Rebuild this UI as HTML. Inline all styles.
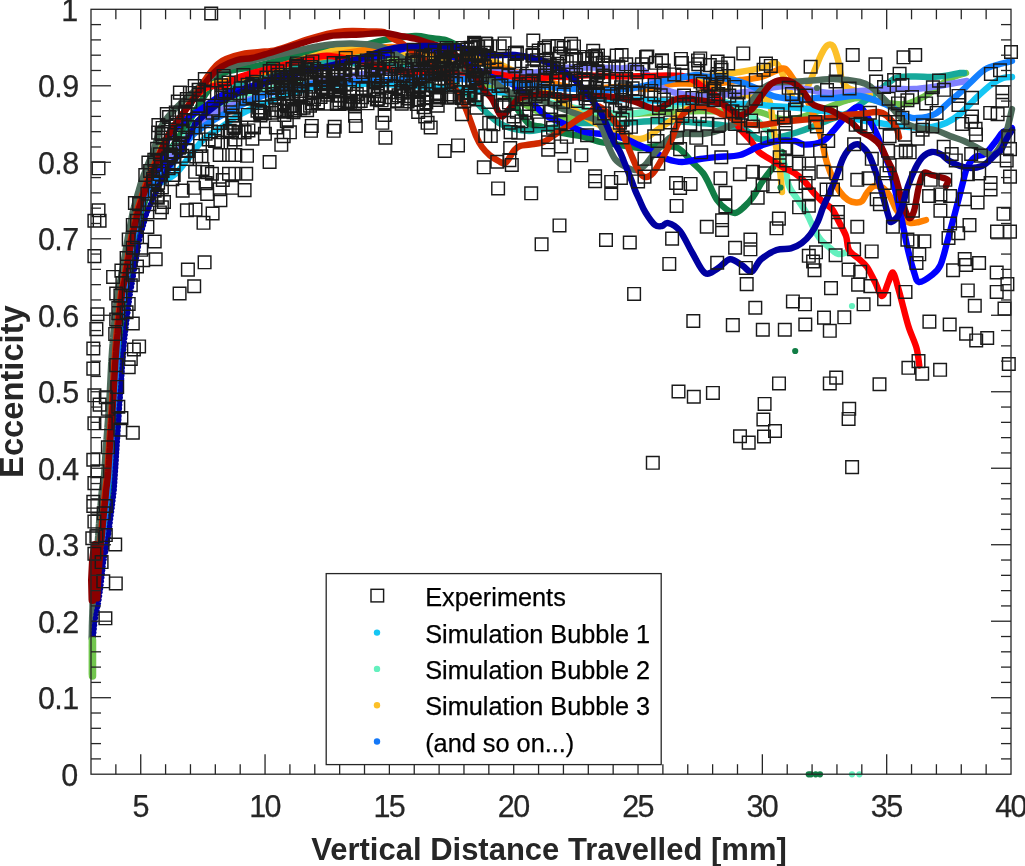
<!DOCTYPE html>
<html><head><meta charset="utf-8"><style>
html,body{margin:0;padding:0;background:#fff;}
svg{display:block;}
.t{font-family:"Liberation Sans",Arial,sans-serif;font-size:30.5px;fill:#262626;stroke:#262626;stroke-width:0.25px;}
.lab{font-family:"Liberation Sans",Arial,sans-serif;font-size:31px;font-weight:bold;fill:#262626;}
.lg{font-family:"Liberation Sans",Arial,sans-serif;font-size:25.3px;fill:#000;stroke:#000;stroke-width:0.25px;}
</style></head><body>
<svg width="1025" height="866" viewBox="0 0 1025 866">
<rect width="1025" height="866" fill="#fff"/>
<path d="M92.0,674.0 C92.0,673.0 92.0,670.0 92.0,668.0 C92.0,666.0 92.0,664.0 92.0,662.0 C92.0,660.0 92.0,658.0 92.0,656.0 C92.0,654.0 92.0,652.0 92.0,650.0 C92.0,648.0 91.9,646.0 92.0,644.0 C92.0,642.0 92.0,640.0 92.0,638.0 C92.1,636.0 92.2,634.0 92.3,632.0 C92.3,630.0 92.4,628.0 92.5,626.0 C92.6,624.0 92.6,622.0 92.7,620.0 C92.8,618.0 93.0,616.0 93.1,614.0 C93.3,612.0 93.4,610.0 93.6,608.0 C93.7,606.0 93.8,604.0 94.0,602.0 C94.1,600.0 94.3,598.0 94.5,596.0 C94.7,594.0 95.0,592.0 95.2,590.0 C95.4,588.0 95.6,586.0 95.8,584.0 C96.0,582.0 96.2,580.0 96.5,578.0 C96.7,576.0 96.9,574.0 97.1,572.0 C97.3,570.0 97.4,568.0 97.6,566.0 C97.8,564.0 97.9,562.0 98.1,560.0 C98.3,558.0 98.5,556.0 98.7,554.0 C98.9,552.0 99.1,550.0 99.3,548.0 C99.5,546.0 99.7,544.0 99.9,542.0 C100.1,540.0 100.3,538.0 100.4,536.0 C100.6,534.0 100.8,532.0 100.9,530.0 C101.1,528.0 101.2,526.0 101.4,524.0 C101.6,522.0 101.7,520.0 101.9,518.0 C102.1,516.0 102.3,514.0 102.5,512.0 C102.7,510.0 102.9,508.0 103.1,506.0 C103.3,504.0 103.5,502.0 103.7,500.0 C103.9,498.0 104.0,496.0 104.2,494.0 C104.4,492.0 104.6,490.0 104.9,488.0 C105.1,486.0 105.4,484.0 105.7,482.0 C106.0,480.0 106.3,478.0 106.4,476.0 C106.6,474.0 106.7,472.0 106.8,470.0 C107.0,468.0 107.1,466.0 107.2,464.0 C107.4,462.0 107.5,460.0 107.6,458.0 C107.8,456.0 107.9,454.0 108.0,452.0 C108.2,450.0 108.3,448.0 108.4,446.0 C108.6,444.0 108.7,442.0 108.9,440.0 C109.0,438.0 109.2,436.0 109.3,434.0 C109.5,432.0 109.6,430.0 109.8,428.0 C109.9,426.0 110.0,424.0 110.2,422.0 C110.3,420.0 110.5,418.0 110.6,416.0 C110.8,414.0 110.9,412.0 111.1,410.0 C111.2,408.0 111.4,406.0 111.5,404.0 C111.6,402.0 111.7,400.0 111.8,398.0 C111.9,396.0 112.1,394.0 112.2,392.0 C112.3,390.0 112.4,388.0 112.5,386.0 C112.6,384.0 112.7,382.0 112.8,380.0 C112.9,378.0 113.0,376.0 113.2,374.0 C113.3,372.0 113.4,370.0 113.5,368.0 C113.6,366.0 113.7,364.0 113.8,362.0 C113.9,360.0 114.1,358.0 114.2,356.0 C114.4,354.0 114.5,352.0 114.7,350.0 C114.8,348.0 115.0,346.0 115.1,344.0 C115.3,342.0 115.5,340.0 115.6,338.0 C115.8,336.0 116.0,334.0 116.2,332.0 C116.3,330.0 116.5,328.0 116.7,326.0 C116.9,324.0 117.0,322.0 117.2,320.0 C117.4,318.0 117.7,316.0 117.9,314.0 C118.2,312.0 118.4,310.0 118.6,308.0 C118.9,306.0 119.1,304.0 119.3,302.0 C119.6,300.0 119.8,298.0 120.0,296.0 C120.3,294.0 120.4,292.0 120.8,290.0 C121.2,288.0 121.8,286.0 122.2,284.0 C122.7,282.0 123.2,280.0 123.6,278.0 C124.0,276.0 124.3,274.0 124.6,272.0 C124.9,270.0 125.3,268.0 125.6,266.0 C126.0,264.0 126.3,262.0 126.6,260.0 C127.0,258.0 127.3,256.0 127.7,254.0 C128.0,252.0 128.3,250.0 128.7,248.0 C129.0,246.0 129.4,244.0 129.7,242.0 C130.1,240.0 130.4,238.0 130.8,236.0 C131.2,234.0 131.7,232.0 132.1,230.0 C132.5,228.0 133.0,226.0 133.4,224.0 C133.8,222.0 134.3,220.0 134.7,218.0 C135.1,216.0 135.5,214.0 136.0,212.0 C136.5,210.0 137.1,208.0 137.7,206.0 C138.3,204.0 139.0,202.0 139.6,200.0 C140.3,198.0 140.9,196.0 141.6,194.0 C142.2,192.0 142.9,190.0 143.5,188.0 C144.2,186.0 144.8,184.0 145.5,182.0 C146.2,180.0 147.1,178.0 147.9,176.0 C148.7,174.0 149.6,172.0 150.5,170.0 C151.3,168.0 152.1,166.0 153.1,164.0 C154.1,162.0 155.2,160.0 156.3,158.0 C157.4,156.0 158.4,155.0 159.8,152.0 C161.3,149.0 158.3,147.0 165.0,140.0 C171.7,133.0 187.5,118.0 200.0,110.0 C212.5,102.0 226.7,97.7 240.0,92.0 C253.3,86.3 266.5,81.3 280.0,76.0 C293.5,70.7 309.0,63.3 321.0,60.0 C333.0,56.7 338.8,56.0 352.0,56.0 C365.2,56.0 383.7,57.3 400.0,60.0 C416.3,62.7 433.3,66.7 450.0,72.0 C466.7,77.3 484.5,85.0 500.0,92.0 C515.5,99.0 533.3,109.7 543.0,114.0 C552.7,118.3 548.5,117.7 558.0,118.0 C567.5,118.3 584.7,116.8 600.0,116.0 C615.3,115.2 633.3,113.8 650.0,113.0 C666.7,112.2 685.0,111.2 700.0,111.0 C715.0,110.8 730.2,111.8 740.0,112.0 C749.8,112.2 752.8,111.0 759.0,112.0 C765.2,113.0 771.7,116.8 777.0,118.0 C782.3,119.2 786.3,119.8 791.0,119.5 C795.7,119.2 800.2,117.5 805.0,116.0 C809.8,114.5 815.2,112.3 820.0,110.5 C824.8,108.7 829.3,106.8 834.0,105.0 C838.7,103.2 843.7,101.2 848.0,100.0 C852.3,98.8 855.0,97.8 860.0,98.0 C865.0,98.2 872.2,100.0 878.0,101.0 C883.8,102.0 890.3,103.5 895.0,104.0 C899.7,104.5 902.2,104.8 906.0,104.0 C909.8,103.2 914.0,101.3 918.0,99.5 C922.0,97.7 924.8,96.4 930.0,93.0 C935.2,89.6 943.0,82.3 949.0,79.0 C955.0,75.7 963.2,74.0 966.0,73.0" fill="none" stroke="#72C64E" stroke-width="6.4" stroke-linecap="round" stroke-linejoin="round"/>
<path d="M95.0,590.0 C95.1,589.0 95.5,586.0 95.7,584.0 C95.9,582.0 96.1,580.0 96.3,578.0 C96.5,576.0 96.7,574.0 96.9,572.0 C97.1,570.0 97.3,568.0 97.4,566.0 C97.6,564.0 97.7,562.0 97.9,560.0 C98.1,558.0 98.3,556.0 98.5,554.0 C98.7,552.0 98.9,550.0 99.1,548.0 C99.3,546.0 99.5,544.0 99.7,542.0 C99.9,540.0 100.0,538.0 100.2,536.0 C100.4,534.0 100.5,532.0 100.7,530.0 C100.8,528.0 101.0,526.0 101.2,524.0 C101.3,522.0 101.5,520.0 101.7,518.0 C101.9,516.0 102.1,514.0 102.2,512.0 C102.4,510.0 102.6,508.0 102.8,506.0 C103.0,504.0 103.2,502.0 103.4,500.0 C103.6,498.0 103.8,496.0 104.0,494.0 C104.2,492.0 104.4,490.0 104.6,488.0 C104.8,486.0 105.2,484.0 105.4,482.0 C105.7,480.0 106.0,478.0 106.2,476.0 C106.4,474.0 106.5,472.0 106.6,470.0 C106.7,468.0 106.9,466.0 107.0,464.0 C107.1,462.0 107.3,460.0 107.4,458.0 C107.5,456.0 107.7,454.0 107.8,452.0 C107.9,450.0 108.1,448.0 108.2,446.0 C108.3,444.0 108.5,442.0 108.6,440.0 C108.8,438.0 108.9,436.0 109.1,434.0 C109.2,432.0 109.4,430.0 109.5,428.0 C109.7,426.0 109.8,424.0 110.0,422.0 C110.1,420.0 110.2,418.0 110.4,416.0 C110.5,414.0 110.7,412.0 110.8,410.0 C111.0,408.0 111.1,406.0 111.3,404.0 C111.4,402.0 111.5,400.0 111.6,398.0 C111.7,396.0 111.8,394.0 111.9,392.0 C112.0,390.0 112.1,388.0 112.2,386.0 C112.4,384.0 112.5,382.0 112.6,380.0 C112.7,378.0 112.8,376.0 112.9,374.0 C113.0,372.0 113.1,370.0 113.2,368.0 C113.3,366.0 113.4,364.0 113.6,362.0 C113.7,360.0 113.8,358.0 114.0,356.0 C114.1,354.0 114.3,352.0 114.4,350.0 C114.6,348.0 114.7,346.0 114.9,344.0 C115.0,342.0 115.2,340.0 115.4,338.0 C115.6,336.0 115.7,334.0 115.9,332.0 C116.1,330.0 116.2,328.0 116.4,326.0 C116.6,324.0 116.8,322.0 117.0,320.0 C117.2,318.0 117.4,316.0 117.7,314.0 C117.9,312.0 118.1,310.0 118.4,308.0 C118.6,306.0 118.8,304.0 119.1,302.0 C119.3,300.0 119.5,298.0 119.8,296.0 C120.0,294.0 120.2,292.0 120.5,290.0 C120.9,288.0 121.5,286.0 121.9,284.0 C122.4,282.0 122.9,280.0 123.3,278.0 C123.7,276.0 124.0,274.0 124.3,272.0 C124.7,270.0 125.0,268.0 125.4,266.0 C125.7,264.0 126.0,262.0 126.4,260.0 C126.7,258.0 127.1,256.0 127.4,254.0 C127.7,252.0 128.1,250.0 128.4,248.0 C128.8,246.0 129.1,244.0 129.4,242.0 C129.8,240.0 130.1,238.0 130.5,236.0 C130.9,234.0 131.4,232.0 131.8,230.0 C132.2,228.0 132.7,226.0 133.1,224.0 C133.5,222.0 134.0,220.0 134.4,218.0 C134.8,216.0 135.2,214.0 135.7,212.0 C136.2,210.0 136.7,208.0 137.3,206.0 C137.9,204.0 138.6,202.0 139.3,200.0 C139.9,198.0 140.9,195.0 141.2,194.0" fill="none" stroke="#8B0000" stroke-width="7" stroke-linecap="round" stroke-linejoin="round"/>
<path d="M96.3,600.0 C96.5,599.0 96.8,596.0 97.0,594.0 C97.3,592.0 97.5,590.0 97.7,588.0 C98.0,586.0 98.2,584.0 98.4,582.0 C98.6,580.0 98.9,578.0 99.1,576.0 C99.3,574.0 99.5,572.0 99.7,570.0 C99.9,568.0 100.1,566.0 100.3,564.0 C100.5,562.0 100.8,560.0 101.0,558.0 C101.3,556.0 101.6,554.0 101.9,552.0 C102.2,550.0 102.5,548.0 102.8,546.0 C103.0,544.0 103.4,542.0 103.6,540.0 C103.9,538.0 104.1,536.0 104.3,534.0 C104.5,532.0 104.7,530.0 104.9,528.0 C105.1,526.0 105.3,524.0 105.5,522.0 C105.7,520.0 105.9,518.0 106.1,516.0 C106.4,514.0 106.6,512.0 106.8,510.0 C107.0,508.0 107.3,506.0 107.5,504.0 C107.7,502.0 107.9,500.0 108.1,498.0 C108.4,496.0 108.6,494.0 108.8,492.0 C109.0,490.0 109.2,488.0 109.4,486.0 C109.6,484.0 109.8,482.0 110.0,480.0 C110.2,478.0 110.4,476.0 110.5,474.0 C110.7,472.0 110.8,470.0 110.9,468.0 C111.0,466.0 111.2,464.0 111.3,462.0 C111.4,460.0 111.6,458.0 111.7,456.0 C111.8,454.0 111.9,452.0 112.1,450.0 C112.2,448.0 112.3,446.0 112.5,444.0 C112.6,442.0 112.8,440.0 112.9,438.0 C113.0,436.0 113.2,434.0 113.3,432.0 C113.4,430.0 113.6,428.0 113.7,426.0 C113.9,424.0 114.0,422.0 114.1,420.0 C114.3,418.0 114.4,416.0 114.5,414.0 C114.7,412.0 114.8,410.0 115.0,408.0 C115.1,406.0 115.2,404.0 115.4,402.0 C115.5,400.0 115.6,398.0 115.7,396.0 C115.9,394.0 116.0,392.0 116.1,390.0 C116.2,388.0 116.4,386.0 116.5,384.0 C116.6,382.0 116.7,380.0 116.9,378.0 C117.0,376.0 117.1,374.0 117.2,372.0 C117.4,370.0 117.5,368.0 117.6,366.0 C117.8,364.0 117.9,362.0 118.0,360.0 C118.2,358.0 118.3,356.0 118.5,354.0 C118.6,352.0 118.7,350.0 118.9,348.0 C119.0,346.0 119.2,344.0 119.4,342.0 C119.6,340.0 119.8,338.0 120.0,336.0 C120.2,334.0 120.4,332.0 120.6,330.0 C120.8,328.0 121.0,326.0 121.2,324.0 C121.4,322.0 121.6,320.0 121.9,318.0 C122.1,316.0 122.4,314.0 122.6,312.0 C122.8,310.0 123.1,308.0 123.3,306.0 C123.6,304.0 123.8,302.0 124.1,300.0 C124.3,298.0 124.5,296.0 124.8,294.0 C125.1,292.0 125.4,290.0 125.8,288.0 C126.2,286.0 126.7,284.0 127.1,282.0 C127.5,280.0 127.8,278.0 128.2,276.0 C128.6,274.0 128.9,272.0 129.2,270.0 C129.6,268.0 129.9,266.0 130.3,264.0 C130.6,262.0 130.9,260.0 131.3,258.0 C131.6,256.0 132.0,254.0 132.3,252.0 C132.6,250.0 133.0,248.0 133.3,246.0 C133.7,244.0 134.0,242.0 134.4,240.0 C134.7,238.0 135.2,236.0 135.6,234.0 C136.1,232.0 136.6,230.0 137.1,228.0 C137.6,226.0 138.1,224.0 138.6,222.0 C139.1,220.0 139.5,218.0 140.0,216.0 C140.6,214.0 141.1,212.0 141.7,210.0 C142.4,208.0 143.2,206.0 143.9,204.0 C144.7,202.0 145.5,200.0 146.2,198.0 C147.0,196.0 147.7,194.0 148.5,192.0 C149.3,190.0 150.1,188.0 150.9,186.0 C151.7,184.0 152.5,182.0 153.3,180.0 C154.2,178.0 155.0,176.0 156.0,174.0 C157.0,172.0 158.1,170.0 159.1,168.0 C160.1,166.0 157.1,170.0 162.2,162.0 C167.4,154.0 182.9,131.2 190.0,120.0 C197.1,108.8 200.3,102.0 205.0,95.0 C209.7,88.0 214.0,82.0 218.0,78.0 C222.0,74.0 223.3,72.8 229.0,71.0 C234.7,69.2 244.2,68.7 252.0,67.0 C259.8,65.3 268.2,62.8 276.0,61.0 C283.8,59.2 291.2,57.7 299.0,56.0 C306.8,54.3 315.2,52.5 323.0,51.0 C330.8,49.5 339.0,48.3 346.0,47.3 C353.0,46.3 358.7,46.2 365.0,45.0 C371.3,43.8 375.7,41.5 384.0,40.0 C392.3,38.5 407.3,36.3 415.0,36.0 C422.7,35.7 424.8,37.3 430.0,38.0 C435.2,38.7 441.3,38.7 446.0,40.0 C450.7,41.3 453.2,43.3 458.0,46.0 C462.8,48.7 469.3,51.7 475.0,56.0 C480.7,60.3 486.2,65.0 492.0,72.0 C497.8,79.0 504.0,89.5 510.0,98.0 C516.0,106.5 522.5,118.2 528.0,123.0 C533.5,127.8 537.3,125.3 543.0,127.0 C548.7,128.7 555.8,131.5 562.0,133.0 C568.2,134.5 573.7,134.5 580.0,136.0 C586.3,137.5 593.3,140.5 600.0,142.0 C606.7,143.5 613.3,144.0 620.0,145.0 C626.7,146.0 633.3,147.8 640.0,148.0 C646.7,148.2 653.7,146.0 660.0,146.0 C666.3,146.0 672.7,145.3 678.0,148.0 C683.3,150.7 687.8,157.8 692.0,162.0 C696.2,166.2 700.0,169.0 703.0,173.0 C706.0,177.0 707.7,181.5 710.0,186.0 C712.3,190.5 714.3,196.2 717.0,200.0 C719.7,203.8 723.0,206.8 726.0,209.0 C729.0,211.2 732.0,213.3 735.0,213.0 C738.0,212.7 741.0,209.7 744.0,207.0 C747.0,204.3 750.0,201.2 753.0,197.0 C756.0,192.8 759.0,186.5 762.0,182.0 C765.0,177.5 768.3,173.5 771.0,170.0 C773.7,166.5 776.2,164.0 778.0,161.0 C779.8,158.0 781.3,153.5 782.0,152.0" fill="none" stroke="#117D45" stroke-width="6.4" stroke-linecap="round" stroke-linejoin="round"/>
<path d="M96.3,590.0 C96.4,589.0 96.7,586.0 96.9,584.0 C97.2,582.0 97.4,580.0 97.6,578.0 C97.8,576.0 98.0,574.0 98.2,572.0 C98.4,570.0 98.6,568.0 98.8,566.0 C98.9,564.0 99.1,562.0 99.3,560.0 C99.5,558.0 99.8,556.0 100.1,554.0 C100.3,552.0 100.5,550.0 100.8,548.0 C101.0,546.0 101.3,544.0 101.5,542.0 C101.7,540.0 101.9,538.0 102.1,536.0 C102.3,534.0 102.5,532.0 102.7,530.0 C102.9,528.0 103.0,526.0 103.2,524.0 C103.4,522.0 103.6,520.0 103.8,518.0 C104.0,516.0 104.2,514.0 104.4,512.0 C104.6,510.0 104.8,508.0 105.0,506.0 C105.2,504.0 105.5,502.0 105.7,500.0 C105.9,498.0 106.1,496.0 106.3,494.0 C106.5,492.0 106.7,490.0 106.9,488.0 C107.1,486.0 107.4,484.0 107.6,482.0 C107.8,480.0 108.1,478.0 108.3,476.0 C108.5,474.0 108.6,472.0 108.7,470.0 C108.8,468.0 108.9,466.0 109.1,464.0 C109.2,462.0 109.3,460.0 109.5,458.0 C109.6,456.0 109.7,454.0 109.9,452.0 C110.0,450.0 110.1,448.0 110.3,446.0 C110.4,444.0 110.6,442.0 110.7,440.0 C110.8,438.0 111.0,436.0 111.1,434.0 C111.3,432.0 111.4,430.0 111.5,428.0 C111.7,426.0 111.8,424.0 112.0,422.0 C112.1,420.0 112.3,418.0 112.4,416.0 C112.5,414.0 112.7,412.0 112.8,410.0 C113.0,408.0 113.1,406.0 113.3,404.0 C113.4,402.0 113.5,400.0 113.6,398.0 C113.7,396.0 113.8,394.0 114.0,392.0 C114.1,390.0 114.2,388.0 114.3,386.0 C114.4,384.0 114.5,382.0 114.7,380.0 C114.8,378.0 114.9,376.0 115.0,374.0 C115.1,372.0 115.2,370.0 115.4,368.0 C115.5,366.0 115.6,364.0 115.7,362.0 C115.8,360.0 116.0,358.0 116.2,356.0 C116.3,354.0 116.4,352.0 116.6,350.0 C116.7,348.0 116.9,346.0 117.0,344.0 C117.2,342.0 117.4,340.0 117.6,338.0 C117.8,336.0 118.0,334.0 118.1,332.0 C118.3,330.0 118.5,328.0 118.7,326.0 C118.9,324.0 119.1,322.0 119.3,320.0 C119.5,318.0 119.8,316.0 120.0,314.0 C120.2,312.0 120.5,310.0 120.7,308.0 C121.0,306.0 121.2,304.0 121.4,302.0 C121.7,300.0 121.9,298.0 122.1,296.0 C122.4,294.0 122.6,292.0 123.0,290.0 C123.3,288.0 123.9,286.0 124.3,284.0 C124.7,282.0 125.2,280.0 125.6,278.0 C126.0,276.0 126.3,274.0 126.6,272.0 C126.9,270.0 127.3,268.0 127.6,266.0 C128.0,264.0 128.3,262.0 128.7,260.0 C129.0,258.0 129.3,256.0 129.7,254.0 C130.0,252.0 130.4,250.0 130.7,248.0 C131.0,246.0 131.4,244.0 131.7,242.0 C132.1,240.0 132.4,238.0 132.8,236.0 C133.3,234.0 133.8,232.0 134.2,230.0 C134.7,228.0 135.1,226.0 135.6,224.0 C136.0,222.0 136.5,220.0 137.0,218.0 C137.4,216.0 137.8,214.0 138.3,212.0 C138.9,210.0 139.6,208.0 140.3,206.0 C140.9,204.0 141.7,202.0 142.4,200.0 C143.1,198.0 143.8,196.0 144.5,194.0 C145.2,192.0 145.9,190.0 146.6,188.0 C147.3,186.0 148.0,184.0 148.8,182.0 C149.5,180.0 150.4,178.0 151.2,176.0 C152.1,174.0 153.1,172.0 154.0,170.0 C155.0,168.0 150.1,171.5 156.9,164.0 C163.7,156.5 185.3,135.0 195.0,125.0 C204.7,115.0 207.2,111.1 215.0,104.0 C222.8,96.9 233.2,87.4 241.5,82.4 C249.8,77.4 256.7,76.6 265.0,74.0 C273.3,71.4 283.2,69.0 291.5,67.0 C299.8,65.0 306.9,62.8 315.0,62.0 C323.1,61.2 332.5,61.7 340.0,62.0 C347.5,62.3 350.2,63.2 360.0,64.0 C369.8,64.8 389.8,66.3 399.0,67.0 C408.2,67.7 408.2,66.5 415.0,68.0 C421.8,69.5 432.5,72.7 440.0,76.0 C447.5,79.3 454.5,84.2 460.0,88.0 C465.5,91.8 468.7,95.0 473.0,99.0 C477.3,103.0 481.7,108.0 486.0,112.0 C490.3,116.0 494.3,120.2 499.0,123.0 C503.7,125.8 509.0,127.7 514.0,129.0 C519.0,130.3 524.2,131.0 529.0,131.0 C533.8,131.0 538.2,129.7 543.0,129.0 C547.8,128.3 553.0,127.9 558.0,127.0 C563.0,126.1 568.0,124.2 573.0,123.5 C578.0,122.8 580.2,123.1 588.0,123.0 C595.8,122.9 608.0,123.3 620.0,123.0 C632.0,122.7 646.7,121.0 660.0,121.0 C673.3,121.0 686.5,121.8 700.0,123.0 C713.5,124.2 731.2,125.3 741.0,128.0 C750.8,130.7 752.5,137.5 759.0,139.0 C765.5,140.5 773.5,138.2 780.0,137.0 C786.5,135.8 792.7,133.7 798.0,132.0 C803.3,130.3 806.7,129.1 812.0,127.0 C817.3,124.9 824.0,121.8 830.0,119.5 C836.0,117.2 842.7,115.8 848.0,113.0 C853.3,110.2 856.7,106.8 862.0,103.0 C867.3,99.2 874.3,94.2 880.0,90.0 C885.7,85.8 890.3,80.2 896.0,78.0 C901.7,75.8 908.0,76.7 914.0,76.5 C920.0,76.3 926.7,77.2 932.0,77.0 C937.3,76.8 941.3,76.3 946.0,75.6 C950.7,74.9 957.0,73.4 960.0,73.0 C963.0,72.6 963.3,73.0 964.0,73.0" fill="none" stroke="#17A99B" stroke-width="6.4" stroke-linecap="round" stroke-linejoin="round"/>
<path d="M97.9,575.0 C98.0,574.0 98.3,571.0 98.5,569.0 C98.7,567.0 98.8,565.0 99.0,563.0 C99.2,561.0 99.5,559.0 99.7,557.0 C99.9,555.0 100.2,553.0 100.4,551.0 C100.7,549.0 100.9,547.0 101.1,545.0 C101.4,543.0 101.7,541.0 101.9,539.0 C102.1,537.0 102.2,535.0 102.4,533.0 C102.6,531.0 102.8,529.0 103.0,527.0 C103.1,525.0 103.3,523.0 103.5,521.0 C103.7,519.0 103.9,517.0 104.1,515.0 C104.3,513.0 104.5,511.0 104.7,509.0 C104.9,507.0 105.1,505.0 105.3,503.0 C105.6,501.0 105.8,499.0 106.0,497.0 C106.2,495.0 106.3,493.0 106.6,491.0 C106.8,489.0 107.0,487.0 107.2,485.0 C107.5,483.0 107.8,481.0 108.0,479.0 C108.2,477.0 108.3,475.0 108.5,473.0 C108.6,471.0 108.7,469.0 108.9,467.0 C109.0,465.0 109.1,463.0 109.3,461.0 C109.4,459.0 109.5,457.0 109.7,455.0 C109.8,453.0 109.9,451.0 110.1,449.0 C110.2,447.0 110.3,445.0 110.5,443.0 C110.6,441.0 110.8,439.0 110.9,437.0 C111.1,435.0 111.2,433.0 111.3,431.0 C111.5,429.0 111.6,427.0 111.8,425.0 C111.9,423.0 112.0,421.0 112.2,419.0 C112.3,417.0 112.5,415.0 112.6,413.0 C112.8,411.0 112.9,409.0 113.0,407.0 C113.2,405.0 113.3,403.0 113.4,401.0 C113.6,399.0 113.7,397.0 113.8,395.0 C113.9,393.0 114.0,391.0 114.1,389.0 C114.2,387.0 114.4,385.0 114.5,383.0 C114.6,381.0 114.7,379.0 114.8,377.0 C115.0,375.0 115.1,373.0 115.2,371.0 C115.3,369.0 115.4,367.0 115.5,365.0 C115.7,363.0 115.8,361.0 115.9,359.0 C116.1,357.0 116.2,355.0 116.4,353.0 C116.5,351.0 116.7,349.0 116.8,347.0 C117.0,345.0 117.1,343.0 117.3,341.0 C117.5,339.0 117.7,337.0 117.9,335.0 C118.1,333.0 118.2,331.0 118.4,329.0 C118.6,327.0 118.8,325.0 119.0,323.0 C119.2,321.0 119.4,319.0 119.7,317.0 C119.9,315.0 120.1,313.0 120.4,311.0 C120.6,309.0 120.8,307.0 121.1,305.0 C121.3,303.0 121.5,301.0 121.8,299.0 C122.0,297.0 122.2,295.0 122.5,293.0 C122.9,291.0 123.2,289.0 123.6,287.0 C124.0,285.0 124.6,283.0 125.0,281.0 C125.4,279.0 125.7,277.0 126.1,275.0 C126.5,273.0 126.8,271.0 127.1,269.0 C127.5,267.0 127.8,265.0 128.1,263.0 C128.5,261.0 128.8,259.0 129.2,257.0 C129.5,255.0 129.8,253.0 130.2,251.0 C130.5,249.0 130.9,247.0 131.2,245.0 C131.6,243.0 131.9,241.0 132.2,239.0 C132.6,237.0 133.1,235.0 133.5,233.0 C134.0,231.0 134.4,229.0 134.9,227.0 C135.4,225.0 135.8,223.0 136.3,221.0 C136.7,219.0 137.2,217.0 137.7,215.0 C138.1,213.0 138.6,211.0 139.3,209.0 C139.9,207.0 140.6,205.0 141.3,203.0 C142.0,201.0 142.7,199.0 143.4,197.0 C144.1,195.0 144.8,193.0 145.5,191.0 C146.2,189.0 146.9,187.0 147.7,185.0 C148.4,183.0 149.2,181.0 150.0,179.0 C150.8,177.0 151.7,175.0 152.6,173.0 C153.5,171.0 154.5,169.0 155.5,167.0 C156.5,165.0 151.1,168.2 158.5,161.0 C165.9,153.8 189.8,132.8 200.0,124.0 C210.2,115.2 211.7,113.0 220.0,108.0 C228.3,103.0 236.7,98.0 250.0,94.0 C263.3,90.0 283.3,86.0 300.0,84.0 C316.7,82.0 333.3,82.0 350.0,82.0 C366.7,82.0 383.3,83.0 400.0,84.0 C416.7,85.0 434.2,86.7 450.0,88.0 C465.8,89.3 484.3,91.0 495.0,92.0 C505.7,93.0 503.2,91.8 514.0,94.0 C524.8,96.2 545.7,102.0 560.0,105.0 C574.3,108.0 588.3,110.5 600.0,112.0 C611.7,113.5 620.0,114.7 630.0,114.0 C640.0,113.3 651.3,109.7 660.0,108.0 C668.7,106.3 674.5,105.3 682.0,104.0 C689.5,102.7 697.7,100.3 705.0,100.0 C712.3,99.7 718.5,99.5 726.0,102.0 C733.5,104.5 743.5,110.7 750.0,115.0 C756.5,119.3 761.2,124.3 765.0,128.0 C768.8,131.7 770.5,132.5 773.0,137.0 C775.5,141.5 778.0,150.2 780.0,155.0 C782.0,159.8 783.5,160.8 785.0,166.0 C786.5,171.2 786.8,180.3 789.0,186.0 C791.2,191.7 795.0,195.3 798.0,200.0 C801.0,204.7 804.3,209.2 807.0,214.0 C809.7,218.8 811.7,224.7 814.0,229.0 C816.3,233.3 818.3,236.8 821.0,240.0 C823.7,243.2 827.2,245.7 830.0,248.0 C832.8,250.3 835.0,253.3 838.0,254.0 C841.0,254.7 846.3,252.3 848.0,252.0" fill="none" stroke="#64F0BE" stroke-width="6.4" stroke-linecap="round" stroke-linejoin="round"/>
<path d="M97.0,580.0 C97.1,579.0 97.4,576.0 97.6,574.0 C97.8,572.0 98.0,570.0 98.2,568.0 C98.4,566.0 98.5,564.0 98.7,562.0 C98.9,560.0 99.1,558.0 99.4,556.0 C99.6,554.0 99.8,552.0 100.1,550.0 C100.3,548.0 100.5,546.0 100.7,544.0 C101.0,542.0 101.2,540.0 101.4,538.0 C101.6,536.0 101.8,534.0 101.9,532.0 C102.1,530.0 102.3,528.0 102.4,526.0 C102.6,524.0 102.8,522.0 103.0,520.0 C103.2,518.0 103.4,516.0 103.6,514.0 C103.8,512.0 104.0,510.0 104.2,508.0 C104.4,506.0 104.6,504.0 104.8,502.0 C105.0,500.0 105.2,498.0 105.4,496.0 C105.6,494.0 105.7,492.0 106.0,490.0 C106.2,488.0 106.5,486.0 106.7,484.0 C107.0,482.0 107.3,480.0 107.5,478.0 C107.7,476.0 107.8,474.0 107.9,472.0 C108.1,470.0 108.2,468.0 108.3,466.0 C108.5,464.0 108.6,462.0 108.7,460.0 C108.9,458.0 109.0,456.0 109.1,454.0 C109.3,452.0 109.4,450.0 109.5,448.0 C109.7,446.0 109.8,444.0 110.0,442.0 C110.1,440.0 110.2,438.0 110.4,436.0 C110.5,434.0 110.7,432.0 110.8,430.0 C111.0,428.0 111.1,426.0 111.2,424.0 C111.4,422.0 111.5,420.0 111.7,418.0 C111.8,416.0 112.0,414.0 112.1,412.0 C112.2,410.0 112.4,408.0 112.5,406.0 C112.7,404.0 112.8,402.0 112.9,400.0 C113.0,398.0 113.1,396.0 113.2,394.0 C113.4,392.0 113.5,390.0 113.6,388.0 C113.7,386.0 113.8,384.0 113.9,382.0 C114.0,380.0 114.2,378.0 114.3,376.0 C114.4,374.0 114.5,372.0 114.6,370.0 C114.7,368.0 114.8,366.0 115.0,364.0 C115.1,362.0 115.2,360.0 115.4,358.0 C115.5,356.0 115.7,354.0 115.8,352.0 C116.0,350.0 116.1,348.0 116.2,346.0 C116.4,344.0 116.6,342.0 116.8,340.0 C116.9,338.0 117.1,336.0 117.3,334.0 C117.5,332.0 117.7,330.0 117.8,328.0 C118.0,326.0 118.2,324.0 118.4,322.0 C118.6,320.0 118.8,318.0 119.1,316.0 C119.3,314.0 119.6,312.0 119.8,310.0 C120.0,308.0 120.3,306.0 120.5,304.0 C120.7,302.0 121.0,300.0 121.2,298.0 C121.5,296.0 121.6,294.0 122.0,292.0 C122.3,290.0 122.7,288.0 123.2,286.0 C123.6,284.0 124.1,282.0 124.5,280.0 C124.9,278.0 125.2,276.0 125.6,274.0 C125.9,272.0 126.3,270.0 126.6,268.0 C127.0,266.0 127.3,264.0 127.6,262.0 C128.0,260.0 128.3,258.0 128.7,256.0 C129.0,254.0 129.3,252.0 129.7,250.0 C130.0,248.0 130.4,246.0 130.7,244.0 C131.1,242.0 131.4,240.0 131.8,238.0 C132.1,236.0 132.6,234.0 133.1,232.0 C133.5,230.0 134.0,228.0 134.4,226.0 C134.9,224.0 135.3,222.0 135.8,220.0 C136.2,218.0 136.6,216.0 137.1,214.0 C137.6,212.0 138.1,210.0 138.7,208.0 C139.3,206.0 140.1,204.0 140.8,202.0 C141.5,200.0 142.1,198.0 142.8,196.0 C143.5,194.0 144.2,192.0 144.9,190.0 C145.6,188.0 146.2,186.0 147.0,184.0 C147.7,182.0 148.5,180.0 149.3,178.0 C150.1,176.0 151.0,174.0 151.9,172.0 C152.8,170.0 152.0,172.0 154.7,166.0 C157.4,160.0 163.1,145.0 168.0,136.0 C172.9,127.0 179.3,118.7 184.0,112.0 C188.7,105.3 192.3,100.0 196.0,96.0 C199.7,92.0 203.0,90.0 206.0,88.0 C209.0,86.0 211.3,85.0 214.0,84.0 C216.7,83.0 217.7,83.0 222.0,82.0 C226.3,81.0 230.3,80.7 240.0,78.0 C249.7,75.3 263.8,70.7 280.0,66.0 C296.2,61.3 323.7,52.7 337.0,50.0 C350.3,47.3 349.5,49.2 360.0,50.0 C370.5,50.8 386.7,53.7 400.0,55.0 C413.3,56.3 426.0,57.3 440.0,58.0 C454.0,58.7 474.8,58.3 484.0,59.0 C493.2,59.7 487.3,58.5 495.0,62.0 C502.7,65.5 519.2,73.7 530.0,80.0 C540.8,86.3 550.8,93.8 560.0,100.0 C569.2,106.2 576.7,112.0 585.0,117.0 C593.3,122.0 600.8,126.3 610.0,130.0 C619.2,133.7 631.7,139.3 640.0,139.0 C648.3,138.7 652.5,132.8 660.0,128.0 C667.5,123.2 677.5,116.3 685.0,110.0 C692.5,103.7 697.5,93.0 705.0,90.0 C712.5,87.0 722.5,91.0 730.0,92.0 C737.5,93.0 745.0,94.7 750.0,96.0 C755.0,97.3 756.8,99.3 760.0,100.0 C763.2,100.7 766.8,96.2 769.0,100.0 C771.2,103.8 771.8,115.3 773.0,123.0 C774.2,130.7 774.8,138.0 776.0,146.0 C777.2,154.0 779.0,163.3 780.0,171.0 C781.0,178.7 781.7,188.5 782.0,192.0" fill="none" stroke="#FCC028" stroke-width="6.4" stroke-linecap="round" stroke-linejoin="round"/>
<path d="M700.0,78.0 C706.7,77.0 729.2,73.8 740.0,72.0 C750.8,70.2 759.5,68.5 765.0,67.0 C770.5,65.5 770.8,63.3 773.0,63.0 C775.2,62.7 776.0,62.2 778.0,65.0 C780.0,67.8 782.2,73.8 785.0,80.0 C787.8,86.2 792.2,99.0 795.0,102.0 C797.8,105.0 799.7,101.0 802.0,98.0 C804.3,95.0 806.8,88.8 809.0,84.0 C811.2,79.2 813.0,74.3 815.0,69.5 C817.0,64.7 819.0,59.0 821.0,55.0 C823.0,51.0 825.0,47.1 827.0,45.6 C829.0,44.1 831.2,43.6 833.0,46.0 C834.8,48.4 836.5,54.3 838.0,60.0 C839.5,65.7 840.3,75.3 842.0,80.0 C843.7,84.7 845.0,86.0 848.0,88.0 C851.0,90.0 856.3,90.8 860.0,92.0 C863.7,93.2 868.3,94.5 870.0,95.0" fill="none" stroke="#FCC028" stroke-width="6.4" stroke-linecap="round" stroke-linejoin="round"/>
<path d="M96.5,585.0 C96.6,584.0 96.9,581.0 97.1,579.0 C97.3,577.0 97.5,575.0 97.7,573.0 C97.9,571.0 98.1,569.0 98.3,567.0 C98.5,565.0 98.6,563.0 98.8,561.0 C99.0,559.0 99.3,557.0 99.5,555.0 C99.7,553.0 99.9,551.0 100.2,549.0 C100.4,547.0 100.6,545.0 100.9,543.0 C101.1,541.0 101.3,539.0 101.5,537.0 C101.7,535.0 101.8,533.0 102.0,531.0 C102.2,529.0 102.4,527.0 102.5,525.0 C102.7,523.0 102.9,521.0 103.1,519.0 C103.3,517.0 103.5,515.0 103.7,513.0 C103.9,511.0 104.1,509.0 104.3,507.0 C104.5,505.0 104.7,503.0 104.9,501.0 C105.1,499.0 105.3,497.0 105.5,495.0 C105.7,493.0 105.9,491.0 106.1,489.0 C106.3,487.0 106.6,485.0 106.8,483.0 C107.1,481.0 107.4,479.0 107.6,477.0 C107.8,475.0 107.9,473.0 108.0,471.0 C108.1,469.0 108.3,467.0 108.4,465.0 C108.5,463.0 108.7,461.0 108.8,459.0 C108.9,457.0 109.1,455.0 109.2,453.0 C109.3,451.0 109.5,449.0 109.6,447.0 C109.7,445.0 109.9,443.0 110.0,441.0 C110.2,439.0 110.3,437.0 110.5,435.0 C110.6,433.0 110.7,431.0 110.9,429.0 C111.0,427.0 111.2,425.0 111.3,423.0 C111.5,421.0 111.6,419.0 111.7,417.0 C111.9,415.0 112.0,413.0 112.2,411.0 C112.3,409.0 112.5,407.0 112.6,405.0 C112.7,403.0 112.8,401.0 113.0,399.0 C113.1,397.0 113.2,395.0 113.3,393.0 C113.4,391.0 113.5,389.0 113.6,387.0 C113.8,385.0 113.9,383.0 114.0,381.0 C114.1,379.0 114.2,377.0 114.3,375.0 C114.4,373.0 114.6,371.0 114.7,369.0 C114.8,367.0 114.9,365.0 115.0,363.0 C115.2,361.0 115.3,359.0 115.4,357.0 C115.6,355.0 115.7,353.0 115.9,351.0 C116.0,349.0 116.2,347.0 116.3,345.0 C116.5,343.0 116.7,341.0 116.8,339.0 C117.0,337.0 117.2,335.0 117.4,333.0 C117.6,331.0 117.8,329.0 117.9,327.0 C118.1,325.0 118.3,323.0 118.5,321.0 C118.7,319.0 119.0,317.0 119.2,315.0 C119.4,313.0 119.7,311.0 119.9,309.0 C120.1,307.0 120.4,305.0 120.6,303.0 C120.9,301.0 121.1,299.0 121.3,297.0 C121.6,295.0 121.8,293.0 122.1,291.0 C122.5,289.0 122.9,287.0 123.4,285.0 C123.8,283.0 124.3,281.0 124.7,279.0 C125.1,277.0 125.4,275.0 125.8,273.0 C126.1,271.0 126.4,269.0 126.8,267.0 C127.1,265.0 127.5,263.0 127.8,261.0 C128.2,259.0 128.5,257.0 128.8,255.0 C129.2,253.0 129.5,251.0 129.9,249.0 C130.2,247.0 130.5,245.0 130.9,243.0 C131.2,241.0 131.5,239.0 131.9,237.0 C132.3,235.0 132.8,233.0 133.3,231.0 C133.7,229.0 134.2,227.0 134.6,225.0 C135.1,223.0 135.5,221.0 136.0,219.0 C136.4,217.0 136.8,215.0 137.3,213.0 C137.8,211.0 138.4,209.0 139.1,207.0 C139.7,205.0 140.4,203.0 141.1,201.0 C141.8,199.0 142.5,197.0 143.2,195.0 C143.8,193.0 144.5,191.0 145.2,189.0 C145.9,187.0 146.6,185.0 147.3,183.0 C148.1,181.0 148.9,179.0 149.7,177.0 C150.6,175.0 151.5,173.0 152.4,171.0 C153.3,169.0 152.6,170.8 155.2,165.0 C157.8,159.2 163.2,144.8 168.0,136.0 C172.8,127.2 179.3,118.7 184.0,112.0 C188.7,105.3 192.3,100.0 196.0,96.0 C199.7,92.0 203.0,89.8 206.0,88.0 C209.0,86.2 211.3,85.8 214.0,85.0 C216.7,84.2 219.3,83.8 222.0,83.0 C224.7,82.2 222.8,81.8 230.0,80.0 C237.2,78.2 254.0,75.0 265.0,72.0 C276.0,69.0 281.5,65.3 296.0,62.0 C310.5,58.7 336.3,54.5 352.0,52.0 C367.7,49.5 378.7,47.3 390.0,47.0 C401.3,46.7 410.7,48.7 420.0,50.0 C429.3,51.3 435.0,52.8 446.0,55.0 C457.0,57.2 476.5,60.8 486.0,63.0 C495.5,65.2 495.7,65.8 503.0,68.0 C510.3,70.2 520.5,73.2 530.0,76.0 C539.5,78.8 550.8,82.8 560.0,85.0 C569.2,87.2 574.8,88.7 585.0,89.0 C595.2,89.3 610.5,87.0 621.0,87.0 C631.5,87.0 641.2,89.2 648.0,89.0 C654.8,88.8 657.5,86.4 662.0,85.5 C666.5,84.6 670.0,84.0 675.0,83.7 C680.0,83.4 686.2,83.7 692.0,83.7 C697.8,83.7 704.0,84.0 710.0,83.7 C716.0,83.4 723.0,82.6 728.0,82.0 C733.0,81.4 734.5,80.8 740.0,80.0 C745.5,79.2 754.0,78.9 761.0,77.0 C768.0,75.1 777.5,69.4 782.0,68.5 C786.5,67.6 786.0,69.7 788.0,71.6 C790.0,73.5 791.7,76.9 794.0,80.0 C796.3,83.1 799.2,85.2 802.0,90.0 C804.8,94.8 808.2,102.3 811.0,109.0 C813.8,115.7 817.0,123.8 819.0,130.0 C821.0,136.2 821.7,140.5 823.0,146.0 C824.3,151.5 825.2,157.3 827.0,163.0 C828.8,168.7 831.3,175.2 833.5,180.0 C835.7,184.8 837.6,188.7 840.0,192.0 C842.4,195.3 845.3,198.2 848.0,200.0 C850.7,201.8 853.7,202.3 856.0,202.5 C858.3,202.7 860.2,202.6 862.0,201.0 C863.8,199.4 865.0,195.5 867.0,193.0 C869.0,190.5 871.3,186.8 874.0,186.0 C876.7,185.2 880.3,186.2 883.0,188.0 C885.7,189.8 887.8,193.0 890.0,196.5 C892.2,200.0 893.8,205.4 896.0,209.0 C898.2,212.6 900.7,215.7 903.0,218.0 C905.3,220.3 907.3,222.3 910.0,223.0 C912.7,223.7 916.3,222.5 919.0,222.0 C921.7,221.5 924.8,220.3 926.0,220.0" fill="none" stroke="#FF8000" stroke-width="6.4" stroke-linecap="round" stroke-linejoin="round"/>
<path d="M100.2,553.0 C100.3,552.0 100.7,549.0 100.9,547.0 C101.1,545.0 101.4,543.0 101.6,541.0 C101.9,539.0 102.0,537.0 102.2,535.0 C102.4,533.0 102.6,531.0 102.8,529.0 C103.0,527.0 103.1,525.0 103.3,523.0 C103.5,521.0 103.7,519.0 103.9,517.0 C104.1,515.0 104.3,513.0 104.5,511.0 C104.7,509.0 104.9,507.0 105.1,505.0 C105.3,503.0 105.6,501.0 105.8,499.0 C106.0,497.0 106.2,495.0 106.4,493.0 C106.6,491.0 106.8,489.0 107.0,487.0 C107.2,485.0 107.5,483.0 107.7,481.0 C108.0,479.0 108.2,477.0 108.4,475.0 C108.5,473.0 108.6,471.0 108.7,469.0 C108.9,467.0 109.0,465.0 109.1,463.0 C109.3,461.0 109.4,459.0 109.5,457.0 C109.7,455.0 109.8,453.0 109.9,451.0 C110.1,449.0 110.2,447.0 110.3,445.0 C110.5,443.0 110.6,441.0 110.8,439.0 C110.9,437.0 111.1,435.0 111.2,433.0 C111.3,431.0 111.5,429.0 111.6,427.0 C111.8,425.0 111.9,423.0 112.0,421.0 C112.2,419.0 112.3,417.0 112.5,415.0 C112.6,413.0 112.8,411.0 112.9,409.0 C113.0,407.0 113.2,405.0 113.3,403.0 C113.4,401.0 113.5,399.0 113.7,397.0 C113.8,395.0 113.9,393.0 114.0,391.0 C114.1,389.0 114.2,387.0 114.4,385.0 C114.5,383.0 114.6,381.0 114.7,379.0 C114.8,377.0 115.0,375.0 115.1,373.0 C115.2,371.0 115.3,369.0 115.4,367.0 C115.5,365.0 115.7,363.0 115.8,361.0 C115.9,359.0 116.1,357.0 116.2,355.0 C116.4,353.0 116.5,351.0 116.7,349.0 C116.8,347.0 116.9,345.0 117.1,343.0 C117.3,341.0 117.5,339.0 117.7,337.0 C117.9,335.0 118.1,333.0 118.2,331.0 C118.4,329.0 118.6,327.0 118.8,325.0 C119.0,323.0 119.2,321.0 119.4,319.0 C119.6,317.0 119.9,315.0 120.1,313.0 C120.4,311.0 120.6,309.0 120.8,307.0 C121.1,305.0 121.3,303.0 121.6,301.0 C121.8,299.0 122.0,297.0 122.3,295.0 C122.5,293.0 122.8,291.0 123.2,289.0 C123.6,287.0 124.1,285.0 124.5,283.0 C124.9,281.0 125.4,279.0 125.8,277.0 C126.1,275.0 126.4,273.0 126.8,271.0 C127.1,269.0 127.5,267.0 127.8,265.0 C128.1,263.0 128.5,261.0 128.8,259.0 C129.2,257.0 129.5,255.0 129.8,253.0 C130.2,251.0 130.5,249.0 130.9,247.0 C131.2,245.0 131.5,243.0 131.9,241.0 C132.3,239.0 132.6,237.0 133.1,235.0 C133.5,233.0 134.0,231.0 134.4,229.0 C134.9,227.0 135.4,225.0 135.8,223.0 C136.3,221.0 136.7,219.0 137.2,217.0 C137.7,215.0 138.1,213.0 138.6,211.0 C139.2,209.0 139.9,207.0 140.6,205.0 C141.3,203.0 142.0,201.0 142.9,199.0 C143.8,197.0 145.0,195.0 146.0,193.0 C147.1,191.0 148.2,189.0 149.4,187.0 C150.5,185.0 151.7,183.0 152.9,181.0 C154.1,179.0 150.5,182.8 156.7,175.0 C162.9,167.2 183.0,142.5 190.0,134.0 C197.0,125.5 192.3,128.7 199.0,124.0 C205.7,119.3 219.0,110.8 230.0,106.0 C241.0,101.2 253.3,98.3 265.0,95.0 C276.7,91.7 285.8,89.2 300.0,86.0 C314.2,82.8 333.3,78.5 350.0,76.0 C366.7,73.5 383.3,72.0 400.0,71.0 C416.7,70.0 433.3,69.8 450.0,70.0 C466.7,70.2 486.7,71.5 500.0,72.0 C513.3,72.5 520.0,73.7 530.0,73.0 C540.0,72.3 550.8,68.9 560.0,68.0 C569.2,67.1 577.8,67.7 585.0,67.6 C592.2,67.5 597.0,67.4 603.0,67.6 C609.0,67.8 615.0,68.5 621.0,68.5 C627.0,68.5 633.7,65.7 639.0,67.6 C644.3,69.5 648.8,76.4 653.0,80.0 C657.2,83.6 660.3,86.9 664.0,89.0 C667.7,91.1 669.7,91.4 675.0,92.6 C680.3,93.8 689.5,95.4 696.0,96.0 C702.5,96.6 706.7,96.6 714.0,96.0 C721.3,95.4 732.3,93.6 740.0,92.6 C747.7,91.6 752.7,91.1 760.0,90.0 C767.3,88.9 776.5,86.2 784.0,86.0 C791.5,85.8 797.3,87.8 805.0,89.0 C812.7,90.2 820.8,92.7 830.0,93.0 C839.2,93.3 852.0,91.7 860.0,91.0 C868.0,90.3 872.0,89.3 878.0,89.0 C884.0,88.7 890.0,89.0 896.0,89.0 C902.0,89.0 908.0,89.3 914.0,89.0 C920.0,88.7 926.0,87.8 932.0,87.0 C938.0,86.2 944.2,85.0 950.0,84.0 C955.8,83.0 964.2,81.5 967.0,81.0" fill="none" stroke="#8080FF" stroke-width="6.4" stroke-linecap="round" stroke-linejoin="round"/>
<path d="M102.2,541.0 C102.3,540.0 102.6,537.0 102.8,535.0 C103.0,533.0 103.2,531.0 103.4,529.0 C103.6,527.0 103.7,525.0 103.9,523.0 C104.1,521.0 104.3,519.0 104.5,517.0 C104.7,515.0 105.0,513.0 105.2,511.0 C105.4,509.0 105.6,507.0 105.8,505.0 C106.0,503.0 106.2,501.0 106.4,499.0 C106.6,497.0 106.9,495.0 107.1,493.0 C107.3,491.0 107.4,489.0 107.7,487.0 C107.9,485.0 108.1,483.0 108.4,481.0 C108.6,479.0 108.8,477.0 109.0,475.0 C109.1,473.0 109.2,471.0 109.4,469.0 C109.5,467.0 109.6,465.0 109.8,463.0 C109.9,461.0 110.0,459.0 110.2,457.0 C110.3,455.0 110.4,453.0 110.6,451.0 C110.7,449.0 110.8,447.0 111.0,445.0 C111.1,443.0 111.2,441.0 111.4,439.0 C111.5,437.0 111.7,435.0 111.8,433.0 C111.9,431.0 112.1,429.0 112.2,427.0 C112.4,425.0 112.5,423.0 112.6,421.0 C112.8,419.0 112.9,417.0 113.1,415.0 C113.2,413.0 113.3,411.0 113.5,409.0 C113.6,407.0 113.8,405.0 113.9,403.0 C114.0,401.0 114.1,399.0 114.3,397.0 C114.4,395.0 114.5,393.0 114.6,391.0 C114.7,389.0 114.9,387.0 115.0,385.0 C115.1,383.0 115.2,381.0 115.3,379.0 C115.5,377.0 115.6,375.0 115.7,373.0 C115.8,371.0 115.9,369.0 116.1,367.0 C116.2,365.0 116.3,363.0 116.4,361.0 C116.6,359.0 116.7,357.0 116.9,355.0 C117.0,353.0 117.1,351.0 117.3,349.0 C117.4,347.0 117.6,345.0 117.8,343.0 C117.9,341.0 118.1,339.0 118.3,337.0 C118.5,335.0 118.7,333.0 118.9,331.0 C119.1,329.0 119.3,327.0 119.5,325.0 C119.7,323.0 119.9,321.0 120.1,319.0 C120.3,317.0 120.6,315.0 120.8,313.0 C121.1,311.0 121.3,309.0 121.5,307.0 C121.8,305.0 122.0,303.0 122.3,301.0 C122.5,299.0 122.7,297.0 123.0,295.0 C123.2,293.0 123.5,291.0 123.9,289.0 C124.3,287.0 124.8,285.0 125.2,283.0 C125.6,281.0 126.0,279.0 126.4,277.0 C126.8,275.0 127.1,273.0 127.4,271.0 C127.8,269.0 128.1,267.0 128.5,265.0 C128.8,263.0 129.2,261.0 129.5,259.0 C129.8,257.0 130.2,255.0 130.5,253.0 C130.9,251.0 131.2,249.0 131.5,247.0 C131.9,245.0 132.2,243.0 132.6,241.0 C132.9,239.0 133.3,237.0 133.7,235.0 C134.2,233.0 134.7,231.0 135.2,229.0 C135.6,227.0 136.1,225.0 136.6,223.0 C137.0,221.0 137.5,219.0 138.0,217.0 C138.4,215.0 138.9,213.0 139.4,211.0 C140.0,209.0 140.7,207.0 141.5,205.0 C142.2,203.0 142.8,201.0 143.9,199.0 C145.1,197.0 146.7,195.0 148.1,193.0 C149.6,191.0 148.3,190.0 152.6,187.0 C156.9,184.0 168.3,179.5 174.0,175.0 C179.7,170.5 182.2,165.8 187.0,160.0 C191.8,154.2 197.0,145.7 203.0,140.0 C209.0,134.3 217.0,130.2 223.0,126.0 C229.0,121.8 232.0,118.8 239.0,115.0 C246.0,111.2 255.5,106.8 265.0,103.0 C274.5,99.2 285.3,95.0 296.0,92.0 C306.7,89.0 315.0,86.3 329.0,85.0 C343.0,83.7 361.5,83.5 380.0,84.0 C398.5,84.5 420.0,86.7 440.0,88.0 C460.0,89.3 481.7,90.8 500.0,92.0 C518.3,93.2 535.8,94.0 550.0,95.0 C564.2,96.0 569.3,97.2 585.0,98.0 C600.7,98.8 631.5,99.5 644.0,100.0 C656.5,100.5 650.7,100.5 660.0,101.0 C669.3,101.5 685.0,102.5 700.0,103.0 C715.0,103.5 738.2,103.5 750.0,104.0 C761.8,104.5 762.7,105.3 771.0,106.0 C779.3,106.7 790.2,107.0 800.0,108.0 C809.8,109.0 820.0,110.0 830.0,112.0 C840.0,114.0 852.0,118.2 860.0,120.0 C868.0,121.8 869.0,121.8 878.0,123.0 C887.0,124.2 905.0,126.8 914.0,127.5 C923.0,128.2 926.7,127.8 932.0,127.0 C937.3,126.2 941.3,125.2 946.0,123.0 C950.7,120.8 955.0,118.2 960.0,114.0 C965.0,109.8 970.7,103.0 976.0,98.0 C981.3,93.0 987.5,87.3 992.0,84.0 C996.5,80.7 999.7,79.2 1003.0,78.0 C1006.3,76.8 1010.5,77.2 1012.0,77.0" fill="none" stroke="#14C6F4" stroke-width="6.4" stroke-linecap="round" stroke-linejoin="round"/>
<path d="M96.5,585.0 C96.6,584.0 96.9,581.0 97.1,579.0 C97.3,577.0 97.5,575.0 97.7,573.0 C97.9,571.0 98.1,569.0 98.3,567.0 C98.5,565.0 98.6,563.0 98.8,561.0 C99.0,559.0 99.3,557.0 99.5,555.0 C99.7,553.0 99.9,551.0 100.2,549.0 C100.4,547.0 100.6,545.0 100.9,543.0 C101.1,541.0 101.3,539.0 101.5,537.0 C101.7,535.0 101.8,533.0 102.0,531.0 C102.2,529.0 102.4,527.0 102.5,525.0 C102.7,523.0 102.9,521.0 103.1,519.0 C103.3,517.0 103.5,515.0 103.7,513.0 C103.9,511.0 104.1,509.0 104.3,507.0 C104.5,505.0 104.7,503.0 104.9,501.0 C105.1,499.0 105.3,497.0 105.5,495.0 C105.7,493.0 105.9,491.0 106.1,489.0 C106.3,487.0 106.6,485.0 106.8,483.0 C107.1,481.0 107.4,479.0 107.6,477.0 C107.8,475.0 107.9,473.0 108.0,471.0 C108.1,469.0 108.3,467.0 108.4,465.0 C108.5,463.0 108.7,461.0 108.8,459.0 C108.9,457.0 109.1,455.0 109.2,453.0 C109.3,451.0 109.5,449.0 109.6,447.0 C109.7,445.0 109.9,443.0 110.0,441.0 C110.2,439.0 110.3,437.0 110.5,435.0 C110.6,433.0 110.7,431.0 110.9,429.0 C111.0,427.0 111.2,425.0 111.3,423.0 C111.5,421.0 111.6,419.0 111.7,417.0 C111.9,415.0 112.0,413.0 112.2,411.0 C112.3,409.0 112.5,407.0 112.6,405.0 C112.7,403.0 112.8,401.0 113.0,399.0 C113.1,397.0 113.2,395.0 113.3,393.0 C113.4,391.0 113.5,389.0 113.6,387.0 C113.8,385.0 113.9,383.0 114.0,381.0 C114.1,379.0 114.2,377.0 114.3,375.0 C114.4,373.0 114.6,371.0 114.7,369.0 C114.8,367.0 114.9,365.0 115.0,363.0 C115.2,361.0 115.3,359.0 115.4,357.0 C115.6,355.0 115.7,353.0 115.9,351.0 C116.0,349.0 116.2,347.0 116.3,345.0 C116.5,343.0 116.7,341.0 116.8,339.0 C117.0,337.0 117.2,335.0 117.4,333.0 C117.6,331.0 117.8,329.0 117.9,327.0 C118.1,325.0 118.3,323.0 118.5,321.0 C118.7,319.0 119.0,317.0 119.2,315.0 C119.4,313.0 119.7,311.0 119.9,309.0 C120.1,307.0 120.4,305.0 120.6,303.0 C120.9,301.0 121.1,299.0 121.3,297.0 C121.6,295.0 121.8,293.0 122.1,291.0 C122.5,289.0 122.9,287.0 123.4,285.0 C123.8,283.0 124.3,281.0 124.7,279.0 C125.1,277.0 125.4,275.0 125.8,273.0 C126.1,271.0 126.4,269.0 126.8,267.0 C127.1,265.0 127.5,263.0 127.8,261.0 C128.2,259.0 128.5,257.0 128.8,255.0 C129.2,253.0 129.5,251.0 129.9,249.0 C130.2,247.0 130.5,245.0 130.9,243.0 C131.2,241.0 131.5,239.0 131.9,237.0 C132.3,235.0 132.8,233.0 133.3,231.0 C133.7,229.0 134.2,227.0 134.6,225.0 C135.1,223.0 135.5,221.0 136.0,219.0 C136.4,217.0 136.8,215.0 137.3,213.0 C137.8,211.0 138.4,209.0 139.1,207.0 C139.7,205.0 140.4,203.0 141.1,201.0 C141.8,199.0 142.5,197.0 143.2,195.0 C143.8,193.0 144.5,191.0 145.2,189.0 C145.9,187.0 146.6,185.0 147.3,183.0 C148.1,181.0 148.9,179.0 149.7,177.0 C150.6,175.0 151.5,173.0 152.4,171.0 C153.3,169.0 152.6,170.8 155.2,165.0 C157.8,159.2 163.2,144.8 168.0,136.0 C172.8,127.2 179.3,118.7 184.0,112.0 C188.7,105.3 192.3,100.0 196.0,96.0 C199.7,92.0 202.8,89.7 206.0,88.0 C209.2,86.3 211.8,86.3 215.0,86.0 C218.2,85.7 221.3,87.3 225.0,86.0 C228.7,84.7 231.2,80.5 237.0,78.0 C242.8,75.5 249.7,73.8 260.0,71.0 C270.3,68.2 288.5,63.5 299.0,61.0 C309.5,58.5 316.7,56.7 323.0,56.0 C329.3,55.3 330.0,56.0 337.0,57.0 C344.0,58.0 355.7,59.8 365.0,62.0 C374.3,64.2 384.7,68.3 393.0,70.0 C401.3,71.7 407.2,71.7 415.0,72.0 C422.8,72.3 430.8,71.8 440.0,72.0 C449.2,72.2 460.8,72.7 470.0,73.0 C479.2,73.3 487.7,73.3 495.0,74.0 C502.3,74.7 507.8,76.2 514.0,77.0 C520.2,77.8 525.8,79.0 532.0,79.0 C538.2,79.0 544.8,77.3 551.0,77.0 C557.2,76.7 562.8,77.3 569.0,77.0 C575.2,76.7 579.3,75.5 588.0,75.4 C596.7,75.3 609.5,76.5 621.0,76.5 C632.5,76.5 648.0,75.8 657.0,75.6 C666.0,75.4 670.3,75.4 675.0,75.6 C679.7,75.8 681.5,75.4 685.0,76.5 C688.5,77.6 693.0,80.2 696.0,82.0 C699.0,83.8 700.7,85.5 703.0,87.0 C705.3,88.5 707.2,88.8 710.0,91.0 C712.8,93.2 716.7,96.0 720.0,100.0 C723.3,104.0 726.5,110.0 730.0,115.0 C733.5,120.0 737.5,125.7 741.0,130.0 C744.5,134.3 748.0,137.3 751.0,141.0 C754.0,144.7 755.3,148.7 759.0,152.0 C762.7,155.3 768.8,158.3 773.0,161.0 C777.2,163.7 780.4,166.0 784.0,168.0 C787.6,170.0 791.0,170.7 794.5,173.0 C798.0,175.3 801.8,178.7 805.0,182.0 C808.2,185.3 811.0,189.7 814.0,193.0 C817.0,196.3 820.0,199.3 823.0,202.0 C826.0,204.7 829.3,205.7 832.0,209.0 C834.7,212.3 836.7,217.5 839.0,222.0 C841.3,226.5 844.3,231.3 846.0,236.0 C847.7,240.7 846.8,246.2 849.0,250.0 C851.2,253.8 856.0,256.2 859.0,259.0 C862.0,261.8 864.3,263.2 867.0,267.0 C869.7,270.8 872.5,277.2 875.0,282.0 C877.5,286.8 879.8,295.8 882.0,296.0 C884.2,296.2 886.2,286.9 888.0,283.0 C889.8,279.1 891.3,271.8 893.0,272.5 C894.7,273.2 896.2,281.6 898.0,287.5 C899.8,293.4 901.7,301.2 903.5,308.0 C905.3,314.8 906.8,321.3 909.0,328.0 C911.2,334.7 914.8,341.8 916.5,348.0 C918.2,354.2 918.8,362.6 919.3,365.5" fill="none" stroke="#FF0000" stroke-width="6.4" stroke-linecap="round" stroke-linejoin="round"/>
<path d="M99.7,560.0 C99.9,559.0 100.3,556.0 100.5,554.0 C100.8,552.0 101.0,550.0 101.3,548.0 C101.5,546.0 101.8,544.0 102.0,542.0 C102.3,540.0 102.5,538.0 102.7,536.0 C102.9,534.0 103.1,532.0 103.3,530.0 C103.5,528.0 103.6,526.0 103.8,524.0 C104.0,522.0 104.2,520.0 104.4,518.0 C104.6,516.0 104.8,514.0 105.1,512.0 C105.3,510.0 105.5,508.0 105.7,506.0 C105.9,504.0 106.1,502.0 106.3,500.0 C106.5,498.0 106.8,496.0 107.0,494.0 C107.2,492.0 107.3,490.0 107.5,488.0 C107.8,486.0 108.0,484.0 108.2,482.0 C108.5,480.0 108.7,478.0 108.9,476.0 C109.1,474.0 109.2,472.0 109.3,470.0 C109.4,468.0 109.6,466.0 109.7,464.0 C109.8,462.0 110.0,460.0 110.1,458.0 C110.2,456.0 110.4,454.0 110.5,452.0 C110.6,450.0 110.7,448.0 110.9,446.0 C111.0,444.0 111.2,442.0 111.3,440.0 C111.4,438.0 111.6,436.0 111.7,434.0 C111.9,432.0 112.0,430.0 112.1,428.0 C112.3,426.0 112.4,424.0 112.6,422.0 C112.7,420.0 112.8,418.0 113.0,416.0 C113.1,414.0 113.3,412.0 113.4,410.0 C113.6,408.0 113.7,406.0 113.8,404.0 C114.0,402.0 114.1,400.0 114.2,398.0 C114.3,396.0 114.4,394.0 114.6,392.0 C114.7,390.0 114.8,388.0 114.9,386.0 C115.0,384.0 115.2,382.0 115.3,380.0 C115.4,378.0 115.5,376.0 115.6,374.0 C115.8,372.0 115.9,370.0 116.0,368.0 C116.1,366.0 116.2,364.0 116.4,362.0 C116.5,360.0 116.6,358.0 116.8,356.0 C116.9,354.0 117.1,352.0 117.2,350.0 C117.4,348.0 117.5,346.0 117.7,344.0 C117.8,342.0 118.0,340.0 118.2,338.0 C118.4,336.0 118.6,334.0 118.8,332.0 C119.0,330.0 119.2,328.0 119.4,326.0 C119.6,324.0 119.8,322.0 120.0,320.0 C120.2,318.0 120.5,316.0 120.7,314.0 C120.9,312.0 121.2,310.0 121.4,308.0 C121.7,306.0 121.9,304.0 122.1,302.0 C122.4,300.0 122.6,298.0 122.8,296.0 C123.1,294.0 123.3,292.0 123.7,290.0 C124.0,288.0 124.6,286.0 125.0,284.0 C125.4,282.0 125.9,280.0 126.3,278.0 C126.6,276.0 126.9,274.0 127.3,272.0 C127.6,270.0 128.0,268.0 128.3,266.0 C128.6,264.0 129.0,262.0 129.3,260.0 C129.7,258.0 130.0,256.0 130.3,254.0 C130.7,252.0 131.0,250.0 131.4,248.0 C131.7,246.0 132.0,244.0 132.4,242.0 C132.8,240.0 133.1,238.0 133.5,236.0 C133.9,234.0 134.5,232.0 134.9,230.0 C135.4,228.0 135.9,226.0 136.3,224.0 C136.8,222.0 137.3,220.0 137.7,218.0 C138.2,216.0 138.6,214.0 139.1,212.0 C139.7,210.0 140.4,208.0 141.1,206.0 C141.8,204.0 142.4,202.0 143.3,200.0 C144.1,198.0 145.2,196.0 146.1,194.0 C147.1,192.0 148.1,190.0 149.1,188.0 C150.1,186.0 151.1,184.0 152.2,182.0 C153.3,180.0 154.4,178.0 155.6,176.0 C156.8,174.0 158.2,172.0 159.5,170.0 C160.8,168.0 162.2,169.3 163.6,164.0 C165.0,158.7 164.4,145.3 168.0,138.0 C171.6,130.7 179.2,125.0 185.0,120.0 C190.8,115.0 197.2,112.0 203.0,108.0 C208.8,104.0 214.2,99.0 220.0,96.0 C225.8,93.0 232.2,91.8 238.0,90.0 C243.8,88.2 249.2,87.0 255.0,85.0 C260.8,83.0 267.2,80.0 273.0,78.0 C278.8,76.0 282.2,74.7 290.0,73.0 C297.8,71.3 309.7,70.0 320.0,68.0 C330.3,66.0 341.3,63.0 352.0,61.0 C362.7,59.0 376.2,57.8 384.0,56.0 C391.8,54.2 393.8,51.6 399.0,50.0 C404.2,48.4 409.8,46.8 415.0,46.5 C420.2,46.2 424.8,46.6 430.0,48.0 C435.2,49.4 440.7,53.0 446.0,55.0 C451.3,57.0 455.3,56.7 462.0,60.0 C468.7,63.3 477.3,70.8 486.0,75.0 C494.7,79.2 506.7,80.8 514.0,85.0 C521.3,89.2 524.8,95.0 530.0,100.0 C535.2,105.0 540.0,111.3 545.0,115.0 C550.0,118.7 553.3,119.2 560.0,122.0 C566.7,124.8 577.8,130.0 585.0,132.0 C592.2,134.0 597.0,133.1 603.0,134.0 C609.0,134.9 615.0,135.6 621.0,137.4 C627.0,139.2 633.0,142.3 639.0,145.0 C645.0,147.7 652.3,151.2 657.0,153.5 C661.7,155.8 662.8,157.6 667.0,159.0 C671.2,160.4 676.5,162.0 682.0,162.0 C687.5,162.0 694.1,159.8 700.0,159.0 C705.9,158.2 710.8,157.7 717.5,157.0 C724.2,156.3 733.1,156.8 740.0,155.0 C746.9,153.2 752.8,148.6 759.0,146.3 C765.2,144.0 771.1,141.9 777.0,141.0 C782.9,140.1 789.8,140.4 794.5,141.0 C799.2,141.6 800.2,144.6 805.0,144.6 C809.8,144.6 818.2,143.4 823.0,141.0 C827.8,138.6 829.8,134.5 834.0,130.0 C838.2,125.5 843.7,117.8 848.0,114.0 C852.3,110.2 856.2,105.5 860.0,107.0 C863.8,108.5 868.0,118.0 871.0,123.0 C874.0,128.0 876.0,132.2 878.0,137.0 C880.0,141.8 881.2,147.2 883.0,152.0 C884.8,156.8 887.2,160.5 889.0,166.0 C890.8,171.5 892.0,176.7 894.0,185.0 C896.0,193.3 898.7,205.2 901.0,216.0 C903.3,226.8 905.8,240.7 908.0,250.0 C910.2,259.3 912.2,266.7 914.0,272.0 C915.8,277.3 916.0,281.5 919.0,282.0 C922.0,282.5 928.4,277.8 932.0,275.0 C935.6,272.2 937.9,270.8 940.5,265.0 C943.1,259.2 945.3,248.7 947.7,240.0 C950.1,231.3 952.6,222.0 955.0,213.0 C957.4,204.0 960.0,193.5 962.0,186.0 C964.0,178.5 964.8,172.8 967.0,168.0 C969.2,163.2 972.0,159.3 975.0,157.0 C978.0,154.7 981.5,156.7 985.0,154.0 C988.5,151.3 993.0,144.7 996.0,141.0 C999.0,137.3 1000.3,134.2 1003.0,132.0 C1005.7,129.8 1010.5,128.7 1012.0,128.0" fill="none" stroke="#0000FF" stroke-width="6.4" stroke-linecap="round" stroke-linejoin="round"/>
<path d="M100.4,555.0 C100.5,554.0 100.9,551.0 101.2,549.0 C101.4,547.0 101.7,545.0 101.9,543.0 C102.2,541.0 102.4,539.0 102.6,537.0 C102.8,535.0 103.0,533.0 103.2,531.0 C103.4,529.0 103.6,527.0 103.7,525.0 C103.9,523.0 104.1,521.0 104.3,519.0 C104.5,517.0 104.7,515.0 105.0,513.0 C105.2,511.0 105.4,509.0 105.6,507.0 C105.8,505.0 106.0,503.0 106.2,501.0 C106.4,499.0 106.6,497.0 106.9,495.0 C107.1,493.0 107.2,491.0 107.4,489.0 C107.6,487.0 107.9,485.0 108.1,483.0 C108.4,481.0 108.6,479.0 108.8,477.0 C109.0,475.0 109.1,473.0 109.2,471.0 C109.4,469.0 109.5,467.0 109.6,465.0 C109.8,463.0 109.9,461.0 110.0,459.0 C110.2,457.0 110.3,455.0 110.4,453.0 C110.6,451.0 110.7,449.0 110.8,447.0 C111.0,445.0 111.1,443.0 111.2,441.0 C111.4,439.0 111.5,437.0 111.7,435.0 C111.8,433.0 111.9,431.0 112.1,429.0 C112.2,427.0 112.4,425.0 112.5,423.0 C112.6,421.0 112.8,419.0 112.9,417.0 C113.1,415.0 113.2,413.0 113.3,411.0 C113.5,409.0 113.6,407.0 113.8,405.0 C113.9,403.0 114.0,401.0 114.1,399.0 C114.3,397.0 114.4,395.0 114.5,393.0 C114.6,391.0 114.7,389.0 114.9,387.0 C115.0,385.0 115.1,383.0 115.2,381.0 C115.3,379.0 115.5,377.0 115.6,375.0 C115.7,373.0 115.8,371.0 115.9,369.0 C116.1,367.0 116.2,365.0 116.3,363.0 C116.4,361.0 116.6,359.0 116.7,357.0 C116.9,355.0 117.0,353.0 117.1,351.0 C117.3,349.0 117.4,347.0 117.6,345.0 C117.8,343.0 117.9,341.0 118.1,339.0 C118.3,337.0 118.5,335.0 118.7,333.0 C118.9,331.0 119.1,329.0 119.3,327.0 C119.5,325.0 119.6,323.0 119.9,321.0 C120.1,319.0 120.3,317.0 120.6,315.0 C120.8,313.0 121.1,311.0 121.3,309.0 C121.5,307.0 121.8,305.0 122.0,303.0 C122.3,301.0 122.5,299.0 122.7,297.0 C123.0,295.0 123.2,293.0 123.5,291.0 C123.9,289.0 124.3,287.0 124.8,285.0 C125.2,283.0 125.7,281.0 126.1,279.0 C126.5,277.0 126.8,275.0 127.1,273.0 C127.4,271.0 127.8,269.0 128.1,267.0 C128.5,265.0 128.8,263.0 129.2,261.0 C129.5,259.0 129.8,257.0 130.2,255.0 C130.5,253.0 130.9,251.0 131.2,249.0 C131.5,247.0 131.9,245.0 132.2,243.0 C132.6,241.0 132.9,239.0 133.3,237.0 C133.7,235.0 134.2,233.0 134.7,231.0 C135.2,229.0 135.6,227.0 136.1,225.0 C136.6,223.0 137.0,221.0 137.5,219.0 C138.0,217.0 138.3,215.0 138.9,213.0 C139.4,211.0 140.1,209.0 140.8,207.0 C141.4,205.0 142.0,203.0 142.9,201.0 C143.9,199.0 145.2,197.0 146.4,195.0 C147.7,193.0 149.0,191.0 150.4,189.0 C151.8,187.0 153.1,185.0 154.6,183.0 C156.1,181.0 156.5,179.5 159.1,177.0 C161.7,174.5 166.3,172.5 170.0,168.0 C173.7,163.5 177.0,155.7 181.0,150.0 C185.0,144.3 188.8,138.8 194.0,134.0 C199.2,129.2 206.3,124.7 212.0,121.0 C217.7,117.3 223.2,114.7 228.0,112.0 C232.8,109.3 233.5,108.3 241.0,105.0 C248.5,101.7 263.8,95.2 273.0,92.0 C282.2,88.8 284.8,87.7 296.0,86.0 C307.2,84.3 324.3,83.0 340.0,82.0 C355.7,81.0 373.3,80.7 390.0,80.0 C406.7,79.3 421.7,77.7 440.0,78.0 C458.3,78.3 480.0,80.3 500.0,82.0 C520.0,83.7 543.3,86.7 560.0,88.0 C576.7,89.3 589.3,89.8 600.0,90.0 C610.7,90.2 617.5,89.5 624.0,89.0 C630.5,88.5 631.3,88.5 639.0,87.0 C646.7,85.5 660.5,82.0 670.0,80.0 C679.5,78.0 690.2,75.6 696.0,75.0 C701.8,74.4 700.5,76.0 705.0,76.5 C709.5,77.0 717.0,77.1 723.0,78.0 C729.0,78.9 734.8,80.0 741.0,82.0 C747.2,84.0 754.7,87.7 760.0,90.0 C765.3,92.3 769.0,94.7 773.0,96.0 C777.0,97.3 779.2,97.3 784.0,98.0 C788.8,98.7 796.7,100.0 802.0,100.0 C807.3,100.0 810.7,98.3 816.0,98.0 C821.3,97.7 826.7,98.3 834.0,98.0 C841.3,97.7 851.2,94.8 860.0,96.0 C868.8,97.2 879.2,101.7 887.0,105.0 C894.8,108.3 901.5,113.8 906.5,116.0 C911.5,118.2 912.2,118.3 917.0,118.0 C921.8,117.7 929.6,116.7 935.0,114.0 C940.4,111.3 945.3,105.2 949.5,101.6 C953.7,98.0 956.4,95.9 960.0,92.6 C963.6,89.3 966.8,85.9 971.0,82.0 C975.2,78.1 980.2,72.4 985.0,69.4 C989.8,66.4 995.5,65.4 1000.0,64.0 C1004.5,62.6 1010.0,61.5 1012.0,61.0" fill="none" stroke="#1480FF" stroke-width="6.4" stroke-linecap="round" stroke-linejoin="round"/>
<path d="M91.7,638.0 C91.7,637.0 91.8,634.0 91.8,632.0 C91.9,630.0 91.9,628.0 91.9,626.0 C92.0,624.0 92.0,622.0 92.1,620.0 C92.1,618.0 92.2,616.0 92.3,614.0 C92.3,612.0 92.4,610.0 92.5,608.0 C92.5,606.0 92.5,604.0 92.6,602.0 C92.7,600.0 92.9,598.0 93.1,596.0 C93.3,594.0 93.5,592.0 93.7,590.0 C93.9,588.0 94.1,586.0 94.3,584.0 C94.5,582.0 94.7,580.0 95.0,578.0 C95.2,576.0 95.4,574.0 95.6,572.0 C95.7,570.0 95.9,568.0 96.0,566.0 C96.2,564.0 96.3,562.0 96.4,560.0 C96.6,558.0 96.7,556.0 96.9,554.0 C97.0,552.0 97.2,550.0 97.3,548.0 C97.5,546.0 97.6,544.0 97.8,542.0 C97.9,540.0 98.0,538.0 98.2,536.0 C98.3,534.0 98.4,532.0 98.6,530.0 C98.7,528.0 98.8,526.0 99.0,524.0 C99.1,522.0 99.3,520.0 99.4,518.0 C99.6,516.0 99.8,514.0 99.9,512.0 C100.1,510.0 100.3,508.0 100.5,506.0 C100.6,504.0 100.8,502.0 101.0,500.0 C101.2,498.0 101.3,496.0 101.5,494.0 C101.7,492.0 101.9,490.0 102.2,488.0 C102.4,486.0 102.8,484.0 103.1,482.0 C103.4,480.0 103.8,478.0 104.0,476.0 C104.2,474.0 104.3,472.0 104.4,470.0 C104.5,468.0 104.7,466.0 104.8,464.0 C104.9,462.0 105.1,460.0 105.2,458.0 C105.3,456.0 105.5,454.0 105.6,452.0 C105.7,450.0 105.9,448.0 106.0,446.0 C106.2,444.0 106.3,442.0 106.5,440.0 C106.6,438.0 106.8,436.0 106.9,434.0 C107.1,432.0 107.2,430.0 107.4,428.0 C107.5,426.0 107.7,424.0 107.8,422.0 C108.0,420.0 108.1,418.0 108.3,416.0 C108.4,414.0 108.6,412.0 108.7,410.0 C108.9,408.0 109.0,406.0 109.2,404.0 C109.3,402.0 109.4,400.0 109.5,398.0 C109.6,396.0 109.7,394.0 109.8,392.0 C109.9,390.0 110.0,388.0 110.1,386.0 C110.2,384.0 110.3,382.0 110.4,380.0 C110.5,378.0 110.6,376.0 110.7,374.0 C110.8,372.0 110.9,370.0 111.0,368.0 C111.1,366.0 111.1,364.0 111.3,362.0 C111.4,360.0 111.6,358.0 111.7,356.0 C111.9,354.0 112.0,352.0 112.1,350.0 C112.3,348.0 112.4,346.0 112.6,344.0 C112.7,342.0 112.9,340.0 113.1,338.0 C113.2,336.0 113.4,334.0 113.5,332.0 C113.7,330.0 113.8,328.0 114.0,326.0 C114.1,324.0 114.3,322.0 114.5,320.0 C114.7,318.0 114.9,316.0 115.2,314.0 C115.4,312.0 115.6,310.0 115.9,308.0 C116.1,306.0 116.3,304.0 116.5,302.0 C116.8,300.0 117.0,298.0 117.2,296.0 C117.5,294.0 117.6,292.0 117.9,290.0 C118.3,288.0 119.0,286.0 119.5,284.0 C120.0,282.0 120.5,280.0 120.9,278.0 C121.3,276.0 121.6,274.0 121.9,272.0 C122.3,270.0 122.6,268.0 122.9,266.0 C123.3,264.0 123.6,262.0 124.0,260.0 C124.3,258.0 124.6,256.0 125.0,254.0 C125.3,252.0 125.7,250.0 126.0,248.0 C126.3,246.0 126.7,244.0 127.0,242.0 C127.4,240.0 127.7,238.0 128.1,236.0 C128.5,234.0 128.9,232.0 129.3,230.0 C129.7,228.0 130.1,226.0 130.5,224.0 C130.9,222.0 131.3,220.0 131.6,218.0 C132.0,216.0 132.4,214.0 132.8,212.0 C133.3,210.0 133.7,208.0 134.3,206.0 C134.8,204.0 135.4,202.0 136.0,200.0 C136.6,198.0 137.1,196.0 137.7,194.0 C138.3,192.0 138.9,190.0 139.4,188.0 C140.0,186.0 140.5,184.0 141.2,182.0 C141.8,180.0 142.7,178.0 143.4,176.0 C144.2,174.0 145.0,172.0 145.7,170.0 C146.5,168.0 147.3,166.0 148.1,164.0 C148.9,162.0 149.7,160.0 150.6,158.0 C151.5,156.0 151.6,157.2 153.3,152.0 C155.1,146.8 157.6,134.0 161.0,127.0 C164.4,120.0 169.2,115.3 174.0,110.0 C178.8,104.7 184.5,100.0 190.0,95.0 C195.5,90.0 201.7,84.2 207.0,80.0 C212.3,75.8 216.5,72.7 222.0,70.0 C227.5,67.3 232.3,66.2 240.0,64.0 C247.7,61.8 258.0,59.3 268.0,57.0 C278.0,54.7 291.3,51.8 300.0,50.0 C308.7,48.2 313.8,47.0 320.0,46.0 C326.2,45.0 331.7,44.4 337.0,44.0 C342.3,43.6 346.8,43.4 352.0,43.5 C357.2,43.6 362.7,43.8 368.0,44.5 C373.3,45.2 378.8,46.1 384.0,48.0 C389.2,49.9 394.8,53.8 399.0,56.0 C403.2,58.2 403.8,59.8 409.0,61.0 C414.2,62.2 422.3,62.0 430.0,63.0 C437.7,64.0 445.7,64.7 455.0,67.0 C464.3,69.3 477.7,73.2 486.0,77.0 C494.3,80.8 498.8,86.5 505.0,90.0 C511.2,93.5 516.8,96.2 523.0,98.0 C529.2,99.8 535.8,99.3 542.0,101.0 C548.2,102.7 553.7,105.7 560.0,108.0 C566.3,110.3 574.0,113.0 580.0,115.0 C586.0,117.0 592.2,117.5 596.0,120.0 C599.8,122.5 601.0,125.8 603.0,130.0 C605.0,134.2 606.0,140.2 608.0,145.0 C610.0,149.8 612.3,155.5 615.0,159.0 C617.7,162.5 620.7,164.2 624.0,166.0 C627.3,167.8 631.7,170.0 635.0,170.0 C638.3,170.0 641.0,168.5 644.0,166.0 C647.0,163.5 650.0,158.5 653.0,155.0 C656.0,151.5 659.0,148.0 662.0,145.0 C665.0,142.0 667.7,138.8 671.0,137.0 C674.3,135.2 678.5,134.5 682.0,134.0 C685.5,133.5 688.5,134.0 692.0,134.0 C695.5,134.0 699.3,134.3 703.0,134.0 C706.7,133.7 710.3,133.0 714.0,132.0 C717.7,131.0 721.5,129.5 725.0,128.0 C728.5,126.5 731.7,125.7 735.0,123.0 C738.3,120.3 742.3,115.5 745.0,112.0 C747.7,108.5 748.2,105.8 751.0,102.0 C753.8,98.2 758.3,92.2 762.0,89.0 C765.7,85.8 768.3,84.2 773.0,83.0 C777.7,81.8 784.7,82.3 790.0,82.0 C795.3,81.7 800.2,81.3 805.0,81.0 C809.8,80.7 814.2,80.3 819.0,80.0 C823.8,79.7 827.2,78.7 834.0,79.0 C840.8,79.3 853.8,80.7 860.0,82.0 C866.2,83.3 867.2,84.3 871.0,87.0 C874.8,89.7 879.2,94.2 883.0,98.0 C886.8,101.8 890.2,105.8 894.0,110.0 C897.8,114.2 901.8,120.0 906.0,123.0 C910.2,126.0 914.2,126.8 919.0,128.0 C923.8,129.2 929.8,128.7 935.0,130.0 C940.2,131.3 945.2,134.2 950.0,136.0 C954.8,137.8 959.3,139.0 964.0,141.0 C968.7,143.0 973.3,145.7 978.0,148.0 C982.7,150.3 988.2,155.5 992.0,155.0 C995.8,154.5 998.5,149.2 1001.0,145.0 C1003.5,140.8 1005.2,136.0 1007.0,130.0 C1008.8,124.0 1011.2,112.5 1012.0,109.0" fill="none" stroke="#4E6B5B" stroke-width="6.4" stroke-linecap="round" stroke-linejoin="round"/>
<path d="M95.5,590.0 C95.6,589.0 96.0,586.0 96.2,584.0 C96.4,582.0 96.6,580.0 96.8,578.0 C97.0,576.0 97.3,574.0 97.5,572.0 C97.6,570.0 97.8,568.0 98.0,566.0 C98.1,564.0 98.3,562.0 98.5,560.0 C98.7,558.0 98.9,556.0 99.1,554.0 C99.4,552.0 99.6,550.0 99.8,548.0 C100.0,546.0 100.2,544.0 100.4,542.0 C100.6,540.0 100.8,538.0 101.0,536.0 C101.2,534.0 101.3,532.0 101.5,530.0 C101.7,528.0 101.8,526.0 102.0,524.0 C102.2,522.0 102.4,520.0 102.5,518.0 C102.7,516.0 102.9,514.0 103.1,512.0 C103.3,510.0 103.5,508.0 103.7,506.0 C103.9,504.0 104.1,502.0 104.3,500.0 C104.5,498.0 104.7,496.0 104.9,494.0 C105.1,492.0 105.3,490.0 105.5,488.0 C105.8,486.0 106.1,484.0 106.3,482.0 C106.6,480.0 106.9,478.0 107.1,476.0 C107.2,474.0 107.3,472.0 107.5,470.0 C107.6,468.0 107.7,466.0 107.9,464.0 C108.0,462.0 108.1,460.0 108.3,458.0 C108.4,456.0 108.5,454.0 108.7,452.0 C108.8,450.0 108.9,448.0 109.1,446.0 C109.2,444.0 109.3,442.0 109.5,440.0 C109.6,438.0 109.8,436.0 109.9,434.0 C110.1,432.0 110.2,430.0 110.4,428.0 C110.5,426.0 110.6,424.0 110.8,422.0 C110.9,420.0 111.1,418.0 111.2,416.0 C111.4,414.0 111.5,412.0 111.7,410.0 C111.8,408.0 112.0,406.0 112.1,404.0 C112.2,402.0 112.3,400.0 112.4,398.0 C112.5,396.0 112.6,394.0 112.8,392.0 C112.9,390.0 113.0,388.0 113.1,386.0 C113.2,384.0 113.3,382.0 113.4,380.0 C113.5,378.0 113.7,376.0 113.8,374.0 C113.9,372.0 114.0,370.0 114.1,368.0 C114.2,366.0 114.3,364.0 114.4,362.0 C114.6,360.0 114.7,358.0 114.9,356.0 C115.0,354.0 115.2,352.0 115.3,350.0 C115.5,348.0 115.6,346.0 115.8,344.0 C115.9,342.0 116.1,340.0 116.3,338.0 C116.5,336.0 116.6,334.0 116.8,332.0 C117.0,330.0 117.2,328.0 117.4,326.0 C117.5,324.0 117.7,322.0 117.9,320.0 C118.1,318.0 118.4,316.0 118.6,314.0 C118.9,312.0 119.1,310.0 119.3,308.0 C119.6,306.0 119.8,304.0 120.0,302.0 C120.3,300.0 120.5,298.0 120.7,296.0 C121.0,294.0 121.2,292.0 121.5,290.0 C121.9,288.0 122.5,286.0 122.9,284.0 C123.4,282.0 123.9,280.0 124.2,278.0 C124.6,276.0 124.9,274.0 125.3,272.0 C125.6,270.0 125.9,268.0 126.3,266.0 C126.6,264.0 127.0,262.0 127.3,260.0 C127.7,258.0 128.0,256.0 128.3,254.0 C128.7,252.0 129.0,250.0 129.4,248.0 C129.7,246.0 130.0,244.0 130.4,242.0 C130.7,240.0 131.1,238.0 131.5,236.0 C131.9,234.0 132.4,232.0 132.8,230.0 C133.2,228.0 133.7,226.0 134.1,224.0 C134.6,222.0 135.0,220.0 135.4,218.0 C135.9,216.0 136.2,214.0 136.8,212.0 C137.3,210.0 137.9,208.0 138.5,206.0 C139.2,204.0 139.9,202.0 140.5,200.0 C141.2,198.0 141.9,196.0 142.5,194.0 C143.2,192.0 143.9,190.0 144.6,188.0 C145.2,186.0 145.9,184.0 146.6,182.0 C147.3,180.0 148.2,178.0 149.0,176.0 C149.8,174.0 150.8,172.0 151.7,170.0 C152.6,168.0 151.7,169.7 154.4,164.0 C157.1,158.3 163.1,144.7 168.0,136.0 C172.9,127.3 179.7,118.5 184.0,112.0 C188.3,105.5 190.8,101.8 194.0,97.0 C197.2,92.2 200.3,87.0 203.0,83.0 C205.7,79.0 207.5,76.2 210.0,73.0 C212.5,69.8 215.3,66.3 218.0,64.0 C220.7,61.7 221.5,60.8 226.0,59.0 C230.5,57.2 239.3,54.7 245.0,53.5 C250.7,52.3 254.8,52.6 260.0,52.0 C265.2,51.4 270.8,51.2 276.0,50.0 C281.2,48.8 286.3,46.8 291.5,45.0 C296.7,43.2 301.8,41.2 307.0,39.5 C312.2,37.8 317.5,36.2 322.7,35.0 C327.9,33.8 333.1,32.7 338.0,32.0 C342.9,31.3 347.0,31.1 352.0,31.0 C357.0,30.9 362.7,31.3 368.0,31.5 C373.3,31.7 380.0,30.9 384.0,32.0 C388.0,33.1 389.0,36.1 392.0,38.0 C395.0,39.9 398.7,41.2 402.0,43.4 C405.3,45.6 408.2,48.2 412.0,51.0 C415.8,53.8 420.3,56.8 425.0,60.0 C429.7,63.2 435.7,66.2 440.0,70.0 C444.3,73.8 447.3,78.0 451.0,83.0 C454.7,88.0 458.8,93.9 462.0,100.0 C465.2,106.1 467.7,113.7 470.0,119.7 C472.3,125.7 474.0,131.4 476.0,136.0 C478.0,140.6 479.7,143.8 482.0,147.0 C484.3,150.2 487.2,153.1 490.0,155.5 C492.8,157.9 496.6,160.0 499.0,161.3 C501.4,162.6 502.9,163.9 504.6,163.4 C506.3,162.9 507.4,160.7 509.0,158.5 C510.6,156.3 512.6,152.1 514.4,150.0 C516.2,147.9 517.4,146.9 520.0,146.0 C522.6,145.1 526.1,145.2 530.0,144.5 C533.9,143.8 539.3,143.7 543.5,142.0 C547.7,140.3 550.8,137.3 555.0,134.5 C559.2,131.7 564.8,128.1 569.0,125.3 C573.2,122.5 576.5,120.2 580.0,118.0 C583.5,115.8 587.3,114.4 590.0,112.4 C592.7,110.4 594.0,106.7 596.0,106.0 C598.0,105.3 599.7,106.3 602.0,108.0 C604.3,109.7 606.8,112.3 610.0,116.0 C613.2,119.7 617.7,124.0 621.0,130.0 C624.3,135.9 627.3,145.4 630.0,151.7 C632.7,158.0 634.7,163.6 637.0,167.8 C639.3,172.0 641.3,175.9 644.0,176.8 C646.7,177.7 649.7,176.8 653.0,173.2 C656.3,169.6 661.0,160.7 664.0,155.3 C667.0,149.9 668.7,146.4 671.0,141.0 C673.3,135.6 675.7,127.8 678.0,123.0 C680.3,118.2 682.0,115.0 685.0,112.3 C688.0,109.6 691.8,107.6 696.0,107.0 C700.2,106.4 705.8,107.6 710.0,108.8 C714.2,110.0 718.0,112.8 721.0,114.0 C724.0,115.2 724.8,114.5 728.0,116.0 C731.2,117.5 734.7,121.5 740.0,123.0 C745.3,124.5 753.3,125.2 760.0,125.0 C766.7,124.8 773.3,122.8 780.0,122.0 C786.7,121.2 791.7,120.7 800.0,120.0 C808.3,119.3 822.5,118.8 830.0,118.0 C837.5,117.2 840.0,115.7 845.0,115.0 C850.0,114.3 854.5,114.5 860.0,114.0 C865.5,113.5 873.5,111.7 878.0,112.0 C882.5,112.3 884.0,113.5 887.0,116.0 C890.0,118.5 894.0,123.5 896.0,127.0 C898.0,130.5 898.5,135.3 899.0,137.0" fill="none" stroke="#D02800" stroke-width="6.4" stroke-linecap="round" stroke-linejoin="round"/>
<path d="M95.2,598.0 C95.3,597.0 95.6,594.0 95.8,592.0 C96.0,590.0 96.3,588.0 96.5,586.0 C96.7,584.0 96.9,582.0 97.2,580.0 C97.4,578.0 97.6,576.0 97.8,574.0 C98.0,572.0 98.2,570.0 98.4,568.0 C98.5,566.0 98.6,564.0 98.8,562.0 C99.0,560.0 99.3,558.0 99.6,556.0 C99.8,554.0 100.0,552.0 100.3,550.0 C100.5,548.0 100.7,546.0 101.0,544.0 C101.2,542.0 101.4,540.0 101.6,538.0 C101.8,536.0 102.0,534.0 102.2,532.0 C102.3,530.0 102.5,528.0 102.7,526.0 C102.9,524.0 103.0,522.0 103.2,520.0 C103.4,518.0 103.6,516.0 103.8,514.0 C104.0,512.0 104.2,510.0 104.4,508.0 C104.6,506.0 104.8,504.0 105.1,502.0 C105.3,500.0 105.5,498.0 105.7,496.0 C105.9,494.0 106.0,492.0 106.2,490.0 C106.4,488.0 106.7,486.0 107.0,484.0 C107.2,482.0 107.5,480.0 107.7,478.0 C107.9,476.0 108.0,474.0 108.2,472.0 C108.3,470.0 108.4,468.0 108.6,466.0 C108.7,464.0 108.8,462.0 109.0,460.0 C109.1,458.0 109.2,456.0 109.4,454.0 C109.5,452.0 109.6,450.0 109.8,448.0 C109.9,446.0 110.1,444.0 110.2,442.0 C110.3,440.0 110.5,438.0 110.6,436.0 C110.8,434.0 110.9,432.0 111.0,430.0 C111.2,428.0 111.3,426.0 111.5,424.0 C111.6,422.0 111.8,420.0 111.9,418.0 C112.0,416.0 112.2,414.0 112.3,412.0 C112.5,410.0 112.6,408.0 112.8,406.0 C112.9,404.0 113.0,402.0 113.1,400.0 C113.3,398.0 113.4,396.0 113.5,394.0 C113.6,392.0 113.7,390.0 113.8,388.0 C113.9,386.0 114.1,384.0 114.2,382.0 C114.3,380.0 114.4,378.0 114.5,376.0 C114.6,374.0 114.8,372.0 114.9,370.0 C115.0,368.0 115.1,366.0 115.2,364.0 C115.3,362.0 115.5,360.0 115.6,358.0 C115.8,356.0 115.9,354.0 116.1,352.0 C116.2,350.0 116.3,348.0 116.5,346.0 C116.7,344.0 116.8,342.0 117.0,340.0 C117.2,338.0 117.4,336.0 117.6,334.0 C117.7,332.0 117.9,330.0 118.1,328.0 C118.3,326.0 118.5,324.0 118.7,322.0 C118.9,320.0 119.1,318.0 119.4,316.0 C119.6,314.0 119.8,312.0 120.1,310.0 C120.3,308.0 120.5,306.0 120.8,304.0 C121.0,302.0 121.2,300.0 121.5,298.0 C121.7,296.0 121.9,294.0 122.3,292.0 C122.6,290.0 123.0,288.0 123.4,286.0 C123.9,284.0 124.4,282.0 124.8,280.0 C125.2,278.0 125.5,276.0 125.9,274.0 C126.2,272.0 126.5,270.0 126.9,268.0 C127.2,266.0 127.6,264.0 127.9,262.0 C128.3,260.0 128.6,258.0 128.9,256.0 C129.3,254.0 129.6,252.0 130.0,250.0 C130.3,248.0 130.6,246.0 131.0,244.0 C131.3,242.0 131.6,240.0 132.0,238.0 C132.4,236.0 132.9,234.0 133.3,232.0 C133.8,230.0 134.2,228.0 134.7,226.0 C135.1,224.0 135.6,222.0 136.1,220.0 C136.5,218.0 136.9,216.0 137.4,214.0 C137.9,212.0 138.4,210.0 139.1,208.0 C139.7,206.0 140.4,204.0 141.1,202.0 C141.8,200.0 142.5,198.0 143.2,196.0 C143.9,194.0 144.6,192.0 145.3,190.0 C146.0,188.0 146.7,186.0 147.4,184.0 C148.2,182.0 148.9,180.0 149.8,178.0 C150.6,176.0 151.5,174.0 152.4,172.0 C153.3,170.0 152.6,172.0 155.2,166.0 C157.8,160.0 163.2,145.0 168.0,136.0 C172.8,127.0 179.3,118.7 184.0,112.0 C188.7,105.3 191.7,101.8 196.0,96.0 C200.3,90.2 205.8,81.8 210.0,77.0 C214.2,72.2 216.5,69.8 221.0,67.0 C225.5,64.2 231.8,61.5 237.0,60.0 C242.2,58.5 246.8,59.1 252.0,58.0 C257.2,56.9 262.7,55.1 268.0,53.5 C273.3,51.9 278.8,50.1 284.0,48.5 C289.2,46.9 293.8,45.5 299.0,44.0 C304.2,42.5 309.8,40.8 315.0,39.5 C320.2,38.2 325.3,36.8 330.5,36.0 C335.7,35.2 341.1,35.2 346.0,35.0 C350.9,34.8 353.7,34.8 360.0,34.5 C366.3,34.2 377.5,32.8 384.0,33.0 C390.5,33.2 393.8,34.6 399.0,35.6 C404.2,36.6 409.8,37.4 415.0,38.7 C420.2,40.0 424.8,41.9 430.0,43.4 C435.2,44.9 441.3,45.7 446.0,48.0 C450.7,50.3 454.0,53.3 458.0,57.0 C462.0,60.7 465.7,64.5 470.0,70.0 C474.3,75.5 480.3,85.2 484.0,90.0 C487.7,94.8 489.2,94.7 492.0,99.0 C494.8,103.3 498.3,114.1 501.0,116.0 C503.7,117.9 505.2,113.3 508.0,110.5 C510.8,107.7 514.5,101.9 518.0,99.4 C521.5,96.9 524.8,96.6 529.0,95.7 C533.2,94.8 538.2,94.0 543.0,94.0 C547.8,94.0 553.0,95.1 558.0,95.7 C563.0,96.3 568.2,97.5 573.0,97.6 C577.8,97.6 582.0,96.2 587.0,96.0 C592.0,95.8 597.3,95.9 603.0,96.2 C608.7,96.5 615.7,97.1 621.0,98.0 C626.3,98.9 630.5,100.1 635.0,101.6 C639.5,103.1 644.3,105.8 648.0,107.0 C651.7,108.2 654.2,109.1 657.0,108.8 C659.8,108.5 662.1,106.7 665.0,105.2 C667.9,103.7 671.2,101.0 674.5,99.8 C677.8,98.6 681.4,98.0 685.0,98.0 C688.6,98.0 691.8,99.2 696.0,99.8 C700.2,100.4 705.2,100.7 710.0,101.6 C714.8,102.5 720.0,103.0 725.0,105.2 C730.0,107.4 735.5,114.4 740.0,115.0 C744.5,115.6 748.5,112.1 752.0,109.0 C755.5,105.9 757.8,100.7 761.0,96.5 C764.2,92.3 767.5,86.8 771.0,84.0 C774.5,81.2 778.5,80.3 782.0,80.0 C785.5,79.7 788.7,80.3 792.0,82.0 C795.3,83.7 798.8,86.5 802.0,90.0 C805.2,93.5 808.2,99.9 811.0,102.7 C813.8,105.5 815.8,105.8 819.0,107.0 C822.2,108.2 826.3,108.5 830.0,110.0 C833.7,111.5 837.3,113.8 841.0,116.0 C844.7,118.2 848.8,120.5 852.0,123.0 C855.2,125.5 856.8,128.7 860.0,131.0 C863.2,133.3 867.7,134.7 871.0,137.0 C874.3,139.3 877.3,141.3 880.0,145.0 C882.7,148.7 884.7,154.3 887.0,159.0 C889.3,163.7 892.2,168.5 894.0,173.0 C895.8,177.5 896.5,180.8 898.0,186.0 C899.5,191.2 901.2,198.7 903.0,204.0 C904.8,209.3 907.2,216.8 909.0,218.0 C910.8,219.2 912.3,216.3 914.0,211.0 C915.7,205.7 917.3,192.3 919.0,186.0 C920.7,179.7 921.8,174.8 924.0,173.0 C926.2,171.2 929.3,174.3 932.0,175.0 C934.7,175.7 937.3,176.2 940.0,177.0 C942.7,177.8 947.0,178.5 948.0,180.0 C949.0,181.5 946.3,185.0 946.0,186.0" fill="none" stroke="#8B0000" stroke-width="6.4" stroke-linecap="round" stroke-linejoin="round"/>
<path d="M93.0,640.0 L93.6,634.0 L94.2,628.0 L94.8,622.0 L95.8,616.0 L97.0,610.0 L98.2,604.0 L99.2,598.0 L100.0,592.0 L100.8,586.0 L101.5,580.0 L102.2,574.0 L102.8,568.0 L103.5,562.0 L104.7,556.0 L105.8,550.0 L107.0,544.0 L108.1,538.0 L108.9,532.0 L109.7,526.0 L110.4,520.0 L111.2,514.0 L112.0,508.0 L112.7,502.0 L113.5,496.0 L114.1,490.0 L114.5,484.0 L114.9,478.0 L115.3,472.0 L115.7,466.0 L116.1,460.0 L116.4,454.0 L116.8,448.0 L117.2,442.0 L117.6,436.0 L118.0,430.0 L118.4,424.0 L118.8,418.0 L119.1,412.0 L119.5,406.0 L120.0,400.0 L120.4,394.0 L120.8,388.0 L121.3,382.0 L121.7,376.0 L122.1,370.0 L122.6,364.0 L123.0,358.0 L123.4,352.0 L123.9,346.0 L124.5,340.0 L125.2,334.0 L125.9,328.0 L126.6,322.0 L127.4,316.0 L128.1,310.0 L128.9,304.0 L129.6,298.0 L130.5,292.0 L131.6,286.0 L132.6,280.0 L133.6,274.0 L134.7,268.0 L135.7,262.0 L136.7,256.0 L137.8,250.0 L138.8,244.0 L139.8,238.0 L141.4,232.0 L143.1,226.0 L144.8,220.0 L146.4,214.0 L148.8,208.0 L151.5,202.0 L154.2,196.0 L156.9,190.0 L159.8,184.0 L162.6,178.0 L165.8,172.0 L169.5,166.0 L174.1,160.0 L180.5,154.0 L195.0,124.0" fill="none" stroke="#0000A0" stroke-width="5.6" stroke-linecap="round" stroke-dasharray="0.1 3.6"/>
<path d="M195.0,124.0 C197.5,121.7 204.2,114.5 210.0,110.0 C215.8,105.5 221.7,101.2 230.0,97.0 C238.3,92.8 248.3,89.0 260.0,85.0 C271.7,81.0 285.0,77.0 300.0,73.0 C315.0,69.0 334.2,65.2 350.0,61.0 C365.8,56.8 381.7,50.5 395.0,48.0 C408.3,45.5 418.8,46.0 430.0,46.0 C441.2,46.0 452.5,46.5 462.0,48.0 C471.5,49.5 478.2,53.8 487.0,55.0 C495.8,56.2 505.8,54.1 515.0,55.0 C524.2,55.9 533.8,57.8 542.0,60.5 C550.2,63.2 558.1,67.8 564.0,71.4 C569.9,75.1 573.0,77.8 577.5,82.4 C582.0,87.0 586.9,93.4 591.0,98.8 C595.1,104.2 598.3,108.2 602.0,115.0 C605.7,121.8 610.0,133.5 613.0,139.7 C616.0,145.9 618.2,148.3 620.0,152.0 C621.8,155.7 622.1,156.9 624.0,161.6 C625.9,166.3 629.7,175.7 631.5,180.4 C633.3,185.1 633.7,186.7 635.0,190.0 C636.3,193.3 637.8,196.2 639.5,200.0 C641.2,203.8 642.9,208.3 645.5,212.5 C648.1,216.7 652.2,222.8 655.0,225.0 C657.8,227.2 659.8,226.3 662.0,226.0 C664.2,225.7 665.0,222.2 668.0,223.0 C671.0,223.8 675.9,226.0 680.0,231.0 C684.1,236.0 688.2,246.0 692.4,253.0 C696.6,260.0 700.8,270.4 705.0,273.0 C709.2,275.6 713.3,270.9 717.5,268.6 C721.7,266.3 725.9,259.8 730.0,259.3 C734.1,258.8 738.8,263.5 742.4,265.6 C746.0,267.7 748.5,272.9 751.6,271.8 C754.7,270.8 756.8,262.9 761.0,259.3 C765.2,255.7 771.6,251.8 776.6,250.0 C781.6,248.2 786.7,249.6 790.9,248.4 C795.1,247.2 798.4,245.5 801.7,243.1 C805.0,240.7 807.9,237.7 810.6,234.1 C813.3,230.5 815.7,226.1 817.8,221.6 C819.9,217.1 821.0,212.4 823.1,207.3 C825.2,202.2 827.9,196.9 830.3,191.2 C832.7,185.5 835.4,178.7 837.5,173.3 C839.6,167.9 841.0,162.8 842.8,158.9 C844.6,155.0 846.3,152.3 848.2,150.0 C850.1,147.7 852.0,145.8 854.0,145.0 C856.0,144.2 857.5,143.3 860.0,145.0 C862.5,146.7 866.3,150.3 869.0,155.0 C871.7,159.7 874.2,168.0 876.0,173.0 C877.8,178.0 878.7,180.5 880.0,185.0 C881.3,189.5 882.5,194.5 884.0,200.0 C885.5,205.5 887.8,214.3 889.0,218.0 C890.2,221.7 889.5,222.3 891.0,222.0 C892.5,221.7 896.0,219.0 898.0,216.0 C900.0,213.0 901.3,209.0 903.0,204.0 C904.7,199.0 905.9,192.0 908.0,186.0 C910.1,180.0 913.1,172.8 915.5,168.0 C917.9,163.2 919.9,159.7 922.6,157.0 C925.3,154.3 928.6,152.5 931.6,152.0 C934.6,151.5 937.5,152.5 940.5,154.0 C943.5,155.5 946.2,159.0 949.5,161.0 C952.8,163.0 956.4,164.8 960.0,166.0 C963.6,167.2 967.3,168.0 971.0,168.0 C974.7,168.0 979.0,167.2 982.0,166.0 C985.0,164.8 986.7,163.0 989.0,161.0 C991.3,159.0 994.0,155.8 996.0,154.0 C998.0,152.2 999.3,152.3 1001.0,150.0 C1002.7,147.7 1004.2,143.3 1006.0,140.0 C1007.8,136.7 1011.0,131.7 1012.0,130.0" fill="none" stroke="#0000A0" stroke-width="6.4" stroke-linecap="round" stroke-linejoin="round"/>
<path d="M92.5,600.0 L92.0,580.0 L93.0,560.0 L95.0,545.0" fill="none" stroke="#8B0000" stroke-width="8" stroke-linecap="round" stroke-linejoin="round"/>
<path d="M97.0,598.0 L98.0,575.0 L100.0,552.0" fill="none" stroke="#8B0000" stroke-width="7" stroke-linecap="round" stroke-linejoin="round"/>
<path d="M92.5,676.0 L92.5,640.0" fill="none" stroke="#72C64E" stroke-width="7.5" stroke-linecap="round" stroke-linejoin="round"/>
<path d="M663.0,257.6h12.6v12.6h-12.6zM710.9,256.4h12.6v12.6h-12.6zM739.5,261.6h12.6v12.6h-12.6zM740.4,277.8h12.6v12.6h-12.6zM627.8,287.6h12.6v12.6h-12.6zM749.0,301.4h12.6v12.6h-12.6zM786.6,295.1h12.6v12.6h-12.6zM798.7,298.0h12.6v12.6h-12.6zM687.0,314.7h12.6v12.6h-12.6zM726.5,318.8h12.6v12.6h-12.6zM756.5,323.4h12.6v12.6h-12.6zM778.5,323.4h12.6v12.6h-12.6zM799.0,318.2h12.6v12.6h-12.6zM817.7,311.3h12.6v12.6h-12.6zM823.5,324.5h12.6v12.6h-12.6zM824.7,281.8h12.6v12.6h-12.6zM806.8,255.2h12.6v12.6h-12.6zM808.2,263.9h12.6v12.6h-12.6zM672.2,385.2h12.6v12.6h-12.6zM687.5,390.4h12.6v12.6h-12.6zM706.6,386.6h12.6v12.6h-12.6zM772.7,377.1h12.6v12.6h-12.6zM758.3,397.6h12.6v12.6h-12.6zM757.1,413.2h12.6v12.6h-12.6zM768.7,424.7h12.6v12.6h-12.6zM757.7,430.2h12.6v12.6h-12.6zM733.7,429.9h12.6v12.6h-12.6zM742.4,436.3h12.6v12.6h-12.6zM646.5,456.5h12.6v12.6h-12.6zM823.5,377.1h12.6v12.6h-12.6zM809.7,246.0h12.6v12.6h-12.6zM829.3,248.9h12.6v12.6h-12.6zM842.3,263.3h12.6v12.6h-12.6zM853.9,265.4h12.6v12.6h-12.6zM865.4,245.1h12.6v12.6h-12.6zM851.8,278.3h12.6v12.6h-12.6zM864.0,279.8h12.6v12.6h-12.6zM877.8,292.8h12.6v12.6h-12.6zM899.2,285.6h12.6v12.6h-12.6zM857.3,298.0h12.6v12.6h-12.6zM838.0,311.0h12.6v12.6h-12.6zM910.2,256.7h12.6v12.6h-12.6zM913.0,248.0h12.6v12.6h-12.6zM946.8,263.9h12.6v12.6h-12.6zM959.8,258.7h12.6v12.6h-12.6zM972.8,256.7h12.6v12.6h-12.6zM990.4,266.2h12.6v12.6h-12.6zM1001.1,277.8h12.6v12.6h-12.6zM961.5,284.1h12.6v12.6h-12.6zM990.4,285.6h12.6v12.6h-12.6zM968.5,299.4h12.6v12.6h-12.6zM998.2,302.3h12.6v12.6h-12.6zM923.1,315.3h12.6v12.6h-12.6zM943.4,318.2h12.6v12.6h-12.6zM959.8,327.4h12.6v12.6h-12.6zM969.9,334.1h12.6v12.6h-12.6zM980.9,331.7h12.6v12.6h-12.6zM902.1,361.5h12.6v12.6h-12.6zM912.2,354.8h12.6v12.6h-12.6zM915.9,367.3h12.6v12.6h-12.6zM933.8,363.5h12.6v12.6h-12.6zM1002.5,357.7h12.6v12.6h-12.6zM829.9,371.3h12.6v12.6h-12.6zM873.2,377.9h12.6v12.6h-12.6zM842.9,402.5h12.6v12.6h-12.6zM842.3,412.6h12.6v12.6h-12.6zM845.8,460.8h12.6v12.6h-12.6zM553.2,219.1h12.6v12.6h-12.6zM535.3,238.0h12.6v12.6h-12.6zM599.7,233.7h12.6v12.6h-12.6zM623.5,236.2h12.6v12.6h-12.6zM665.8,232.3h12.6v12.6h-12.6zM670.3,199.6h12.6v12.6h-12.6zM88.1,476.8h12.6v12.6h-12.6zM87.0,495.5h12.6v12.6h-12.6zM87.0,499.7h12.6v12.6h-12.6zM99.5,499.7h12.6v12.6h-12.6zM97.4,507.0h12.6v12.6h-12.6zM88.1,515.3h12.6v12.6h-12.6zM86.0,531.9h12.6v12.6h-12.6zM90.1,529.9h12.6v12.6h-12.6zM99.5,528.8h12.6v12.6h-12.6zM108.9,538.2h12.6v12.6h-12.6zM88.1,547.5h12.6v12.6h-12.6zM95.3,555.8h12.6v12.6h-12.6zM97.0,575.0h12.6v12.6h-12.6zM109.5,577.1h12.6v12.6h-12.6zM99.1,612.0h12.6v12.6h-12.6zM112.0,306.8h12.6v12.6h-12.6zM109.9,313.1h12.6v12.6h-12.6zM90.1,322.8h12.6v12.6h-12.6zM108.9,327.6h12.6v12.6h-12.6zM126.5,317.2h12.6v12.6h-12.6zM132.8,340.1h12.6v12.6h-12.6zM127.6,343.2h12.6v12.6h-12.6zM124.5,352.6h12.6v12.6h-12.6zM122.4,360.9h12.6v12.6h-12.6zM87.0,342.2h12.6v12.6h-12.6zM87.0,362.3h12.6v12.6h-12.6zM109.9,358.8h12.6v12.6h-12.6zM110.9,380.6h12.6v12.6h-12.6zM88.1,389.0h12.6v12.6h-12.6zM99.5,391.0h12.6v12.6h-12.6zM93.3,398.3h12.6v12.6h-12.6zM101.6,402.5h12.6v12.6h-12.6zM112.0,400.4h12.6v12.6h-12.6zM115.1,411.8h12.6v12.6h-12.6zM88.1,417.0h12.6v12.6h-12.6zM99.5,417.0h12.6v12.6h-12.6zM114.1,423.3h12.6v12.6h-12.6zM126.5,426.4h12.6v12.6h-12.6zM101.6,441.0h12.6v12.6h-12.6zM87.0,453.4h12.6v12.6h-12.6zM91.2,464.9h12.6v12.6h-12.6zM91.2,307.9h12.6v12.6h-12.6zM92.2,162.0h12.6v12.6h-12.6zM92.2,204.0h12.6v12.6h-12.6zM88.1,214.4h12.6v12.6h-12.6zM93.3,214.4h12.6v12.6h-12.6zM88.1,249.8h12.6v12.6h-12.6zM142.1,156.2h12.6v12.6h-12.6zM148.4,158.3h12.6v12.6h-12.6zM166.0,172.8h12.6v12.6h-12.6zM176.4,184.3h12.6v12.6h-12.6zM188.9,165.5h12.6v12.6h-12.6zM195.2,149.9h12.6v12.6h-12.6zM128.6,196.7h12.6v12.6h-12.6zM143.2,197.8h12.6v12.6h-12.6zM155.6,200.9h12.6v12.6h-12.6zM180.6,204.0h12.6v12.6h-12.6zM197.2,216.5h12.6v12.6h-12.6zM126.5,218.6h12.6v12.6h-12.6zM141.1,220.6h12.6v12.6h-12.6zM122.4,233.1h12.6v12.6h-12.6zM148.4,235.2h12.6v12.6h-12.6zM136.9,253.9h12.6v12.6h-12.6zM149.4,252.9h12.6v12.6h-12.6zM120.3,251.8h12.6v12.6h-12.6zM106.8,270.6h12.6v12.6h-12.6zM115.1,264.3h12.6v12.6h-12.6zM126.5,268.5h12.6v12.6h-12.6zM109.9,287.2h12.6v12.6h-12.6zM122.4,297.6h12.6v12.6h-12.6zM112.0,301.8h12.6v12.6h-12.6zM181.6,263.3h12.6v12.6h-12.6zM187.9,279.9h12.6v12.6h-12.6zM173.3,287.2h12.6v12.6h-12.6zM198.3,256.0h12.6v12.6h-12.6zM263.3,155.7h12.6v12.6h-12.6zM275.0,138.5h12.6v12.6h-12.6zM277.4,129.9h12.6v12.6h-12.6zM283.6,126.0h12.6v12.6h-12.6zM304.7,124.5h12.6v12.6h-12.6zM327.3,124.5h12.6v12.6h-12.6zM246.1,132.3h12.6v12.6h-12.6zM240.7,149.5h12.6v12.6h-12.6zM239.9,167.4h12.6v12.6h-12.6zM238.3,183.8h12.6v12.6h-12.6zM225.8,181.5h12.6v12.6h-12.6zM213.4,183.0h12.6v12.6h-12.6zM200.9,187.7h12.6v12.6h-12.6zM214.1,193.9h12.6v12.6h-12.6zM206.3,207.2h12.6v12.6h-12.6zM189.2,203.3h12.6v12.6h-12.6zM187.6,181.5h12.6v12.6h-12.6zM196.2,162.7h12.6v12.6h-12.6zM205.6,167.4h12.6v12.6h-12.6zM222.7,167.4h12.6v12.6h-12.6zM229.0,167.4h12.6v12.6h-12.6zM213.4,148.7h12.6v12.6h-12.6zM222.7,148.7h12.6v12.6h-12.6zM229.0,148.7h12.6v12.6h-12.6zM214.9,136.2h12.6v12.6h-12.6zM224.3,136.2h12.6v12.6h-12.6zM208.7,134.6h12.6v12.6h-12.6zM229.0,133.1h12.6v12.6h-12.6zM202.4,133.1h12.6v12.6h-12.6zM189.9,150.2h12.6v12.6h-12.6zM200.9,165.8h12.6v12.6h-12.6zM199.3,176.8h12.6v12.6h-12.6zM216.5,173.7h12.6v12.6h-12.6zM328.4,120.4h12.6v12.6h-12.6zM349.5,119.6h12.6v12.6h-12.6zM348.7,109.5h12.6v12.6h-12.6zM348.7,100.1h12.6v12.6h-12.6zM330.7,97.7h12.6v12.6h-12.6zM379.1,131.3h12.6v12.6h-12.6zM376.0,116.5h12.6v12.6h-12.6zM378.3,108.7h12.6v12.6h-12.6zM378.3,97.7h12.6v12.6h-12.6zM361.2,97.0h12.6v12.6h-12.6zM397.8,89.9h12.6v12.6h-12.6zM411.9,105.6h12.6v12.6h-12.6zM418.9,110.2h12.6v12.6h-12.6zM424.4,121.2h12.6v12.6h-12.6zM421.3,116.5h12.6v12.6h-12.6zM431.4,99.3h12.6v12.6h-12.6zM440.8,91.5h12.6v12.6h-12.6zM451.7,139.1h12.6v12.6h-12.6zM438.4,144.6h12.6v12.6h-12.6zM455.6,107.9h12.6v12.6h-12.6zM457.9,94.6h12.6v12.6h-12.6zM470.4,93.1h12.6v12.6h-12.6zM479.0,129.7h12.6v12.6h-12.6zM477.5,161.0h12.6v12.6h-12.6zM482.9,116.5h12.6v12.6h-12.6zM417.4,100.9h12.6v12.6h-12.6zM344.0,94.6h12.6v12.6h-12.6zM370.5,93.1h12.6v12.6h-12.6zM412.7,93.1h12.6v12.6h-12.6zM198.5,72.7h12.6v12.6h-12.6zM217.3,69.6h12.6v12.6h-12.6zM188.4,79.7h12.6v12.6h-12.6zM214.9,79.0h12.6v12.6h-12.6zM234.4,82.1h12.6v12.6h-12.6zM260.2,71.2h12.6v12.6h-12.6zM290.6,57.1h12.6v12.6h-12.6zM284.4,68.8h12.6v12.6h-12.6zM335.9,57.9h12.6v12.6h-12.6zM327.3,69.6h12.6v12.6h-12.6zM271.1,77.4h12.6v12.6h-12.6zM258.6,88.3h12.6v12.6h-12.6zM243.0,89.9h12.6v12.6h-12.6zM204.0,86.8h12.6v12.6h-12.6zM214.9,89.9h12.6v12.6h-12.6zM224.3,99.3h12.6v12.6h-12.6zM207.1,102.4h12.6v12.6h-12.6zM191.5,99.3h12.6v12.6h-12.6zM199.3,114.9h12.6v12.6h-12.6zM188.4,121.1h12.6v12.6h-12.6zM211.8,125.8h12.6v12.6h-12.6zM227.4,116.4h12.6v12.6h-12.6zM241.5,108.6h12.6v12.6h-12.6zM255.5,107.1h12.6v12.6h-12.6zM269.6,103.9h12.6v12.6h-12.6zM280.5,114.9h12.6v12.6h-12.6zM286.7,99.3h12.6v12.6h-12.6zM293.0,91.5h12.6v12.6h-12.6zM300.8,103.9h12.6v12.6h-12.6zM311.7,96.1h12.6v12.6h-12.6zM314.8,80.5h12.6v12.6h-12.6zM305.5,72.7h12.6v12.6h-12.6zM332.0,79.0h12.6v12.6h-12.6zM338.2,96.1h12.6v12.6h-12.6zM305.5,119.6h12.6v12.6h-12.6zM321.1,85.2h12.6v12.6h-12.6zM247.7,121.1h12.6v12.6h-12.6zM238.3,125.8h12.6v12.6h-12.6zM269.6,121.1h12.6v12.6h-12.6zM258.6,127.4h12.6v12.6h-12.6zM199.3,127.4h12.6v12.6h-12.6zM246.1,80.5h12.6v12.6h-12.6zM271.1,64.9h12.6v12.6h-12.6zM173.6,86.3h12.6v12.6h-12.6zM171.5,95.3h12.6v12.6h-12.6zM160.5,107.7h12.6v12.6h-12.6zM152.1,118.8h12.6v12.6h-12.6zM156.3,121.6h12.6v12.6h-12.6zM167.4,157.6h12.6v12.6h-12.6zM167.4,168.7h12.6v12.6h-12.6zM179.9,143.8h12.6v12.6h-12.6zM168.8,136.8h12.6v12.6h-12.6zM156.3,131.3h12.6v12.6h-12.6zM161.8,125.8h12.6v12.6h-12.6zM170.2,116.1h12.6v12.6h-12.6zM178.5,106.4h12.6v12.6h-12.6zM184.0,95.3h12.6v12.6h-12.6zM192.3,88.3h12.6v12.6h-12.6zM175.7,125.8h12.6v12.6h-12.6zM186.8,114.7h12.6v12.6h-12.6zM164.6,147.9h12.6v12.6h-12.6zM150.8,142.4h12.6v12.6h-12.6zM148.0,153.5h12.6v12.6h-12.6zM143.8,164.6h12.6v12.6h-12.6zM156.3,164.6h12.6v12.6h-12.6zM181.2,131.3h12.6v12.6h-12.6zM193.7,139.6h12.6v12.6h-12.6zM468.4,38.4h12.6v12.6h-12.6zM484.0,39.9h12.6v12.6h-12.6zM493.4,39.9h12.6v12.6h-12.6zM510.5,46.2h12.6v12.6h-12.6zM526.1,49.3h12.6v12.6h-12.6zM537.8,43.8h12.6v12.6h-12.6zM542.5,39.9h12.6v12.6h-12.6zM557.4,41.5h12.6v12.6h-12.6zM565.2,49.3h12.6v12.6h-12.6zM591.7,49.3h12.6v12.6h-12.6zM610.4,49.3h12.6v12.6h-12.6zM485.6,55.6h12.6v12.6h-12.6zM502.7,55.6h12.6v12.6h-12.6zM509.0,60.2h12.6v12.6h-12.6zM526.1,64.9h12.6v12.6h-12.6zM546.4,61.8h12.6v12.6h-12.6zM560.5,55.6h12.6v12.6h-12.6zM569.8,54.0h12.6v12.6h-12.6zM579.2,61.8h12.6v12.6h-12.6zM596.4,61.8h12.6v12.6h-12.6zM612.0,60.2h12.6v12.6h-12.6zM619.8,72.7h12.6v12.6h-12.6zM610.4,72.7h12.6v12.6h-12.6zM596.4,74.3h12.6v12.6h-12.6zM582.3,74.3h12.6v12.6h-12.6zM565.2,72.7h12.6v12.6h-12.6zM551.1,72.7h12.6v12.6h-12.6zM537.1,74.3h12.6v12.6h-12.6zM526.1,74.3h12.6v12.6h-12.6zM519.9,69.6h12.6v12.6h-12.6zM466.8,72.7h12.6v12.6h-12.6zM482.4,77.4h12.6v12.6h-12.6zM468.4,88.3h12.6v12.6h-12.6zM496.5,88.3h12.6v12.6h-12.6zM496.5,99.3h12.6v12.6h-12.6zM502.7,96.1h12.6v12.6h-12.6zM516.8,93.0h12.6v12.6h-12.6zM529.3,89.9h12.6v12.6h-12.6zM541.7,85.2h12.6v12.6h-12.6zM548.0,93.0h12.6v12.6h-12.6zM557.4,88.3h12.6v12.6h-12.6zM571.4,94.6h12.6v12.6h-12.6zM582.3,96.1h12.6v12.6h-12.6zM593.3,97.7h12.6v12.6h-12.6zM604.2,89.9h12.6v12.6h-12.6zM613.6,99.3h12.6v12.6h-12.6zM619.8,86.8h12.6v12.6h-12.6zM519.9,103.9h12.6v12.6h-12.6zM530.8,105.5h12.6v12.6h-12.6zM544.9,105.5h12.6v12.6h-12.6zM554.2,102.4h12.6v12.6h-12.6zM532.4,114.9h12.6v12.6h-12.6zM544.9,113.3h12.6v12.6h-12.6zM554.2,116.4h12.6v12.6h-12.6zM510.5,105.5h12.6v12.6h-12.6zM507.4,110.2h12.6v12.6h-12.6zM502.7,116.4h12.6v12.6h-12.6zM515.2,114.9h12.6v12.6h-12.6zM504.3,125.8h12.6v12.6h-12.6zM487.1,118.0h12.6v12.6h-12.6zM541.7,130.5h12.6v12.6h-12.6zM560.5,130.5h12.6v12.6h-12.6zM580.8,128.9h12.6v12.6h-12.6zM593.3,111.7h12.6v12.6h-12.6zM597.9,107.1h12.6v12.6h-12.6zM608.9,103.9h12.6v12.6h-12.6zM613.6,116.4h12.6v12.6h-12.6zM619.8,121.1h12.6v12.6h-12.6zM591.7,88.3h12.6v12.6h-12.6zM407.4,43.4h12.6v12.6h-12.6zM440.2,41.8h12.6v12.6h-12.6zM479.2,37.1h12.6v12.6h-12.6zM465.1,41.8h12.6v12.6h-12.6zM381.6,52.7h12.6v12.6h-12.6zM346.5,55.8h12.6v12.6h-12.6zM365.2,55.1h12.6v12.6h-12.6zM416.7,51.2h12.6v12.6h-12.6zM423.0,52.7h12.6v12.6h-12.6zM451.1,54.3h12.6v12.6h-12.6zM471.4,52.7h12.6v12.6h-12.6zM490.1,55.8h12.6v12.6h-12.6zM615.3,48.7h12.6v12.6h-12.6zM641.0,50.2h12.6v12.6h-12.6zM674.6,52.6h12.6v12.6h-12.6zM691.7,54.1h12.6v12.6h-12.6zM703.5,58.8h12.6v12.6h-12.6zM715.2,63.5h12.6v12.6h-12.6zM737.0,47.1h12.6v12.6h-12.6zM759.7,57.3h12.6v12.6h-12.6zM757.3,63.5h12.6v12.6h-12.6zM749.5,73.7h12.6v12.6h-12.6zM710.5,70.5h12.6v12.6h-12.6zM715.2,76.8h12.6v12.6h-12.6zM694.1,75.2h12.6v12.6h-12.6zM676.1,69.0h12.6v12.6h-12.6zM649.6,56.5h12.6v12.6h-12.6zM657.4,64.3h12.6v12.6h-12.6zM635.6,58.0h12.6v12.6h-12.6zM619.9,58.0h12.6v12.6h-12.6zM630.9,65.8h12.6v12.6h-12.6zM644.9,84.6h12.6v12.6h-12.6zM630.9,86.1h12.6v12.6h-12.6zM618.4,83.0h12.6v12.6h-12.6zM618.4,97.1h12.6v12.6h-12.6zM630.9,95.5h12.6v12.6h-12.6zM619.9,108.0h12.6v12.6h-12.6zM624.6,120.5h12.6v12.6h-12.6zM652.7,101.7h12.6v12.6h-12.6zM660.5,97.1h12.6v12.6h-12.6zM677.7,89.3h12.6v12.6h-12.6zM677.7,98.6h12.6v12.6h-12.6zM676.1,109.6h12.6v12.6h-12.6zM693.3,109.6h12.6v12.6h-12.6zM696.4,92.4h12.6v12.6h-12.6zM707.4,93.9h12.6v12.6h-12.6zM712.0,87.7h12.6v12.6h-12.6zM723.0,89.3h12.6v12.6h-12.6zM732.3,86.1h12.6v12.6h-12.6zM730.8,97.1h12.6v12.6h-12.6zM726.1,104.9h12.6v12.6h-12.6zM732.3,109.6h12.6v12.6h-12.6zM744.8,114.2h12.6v12.6h-12.6zM749.5,92.4h12.6v12.6h-12.6zM683.9,117.4h12.6v12.6h-12.6zM659.0,111.1h12.6v12.6h-12.6zM651.2,117.4h12.6v12.6h-12.6zM671.5,118.9h12.6v12.6h-12.6zM701.1,117.4h12.6v12.6h-12.6zM771.4,108.0h12.6v12.6h-12.6zM707.4,84.6h12.6v12.6h-12.6zM735.5,106.4h12.6v12.6h-12.6zM764.5,59.6h12.6v12.6h-12.6zM804.3,60.4h12.6v12.6h-12.6zM846.4,48.7h12.6v12.6h-12.6zM869.1,58.0h12.6v12.6h-12.6zM897.2,51.0h12.6v12.6h-12.6zM908.9,48.7h12.6v12.6h-12.6zM830.0,63.5h12.6v12.6h-12.6zM829.3,75.2h12.6v12.6h-12.6zM820.7,83.8h12.6v12.6h-12.6zM843.3,82.2h12.6v12.6h-12.6zM869.8,75.2h12.6v12.6h-12.6zM877.7,80.7h12.6v12.6h-12.6zM887.8,73.7h12.6v12.6h-12.6zM893.3,67.4h12.6v12.6h-12.6zM905.7,90.8h12.6v12.6h-12.6zM901.1,93.9h12.6v12.6h-12.6zM882.3,92.4h12.6v12.6h-12.6zM891.7,97.1h12.6v12.6h-12.6zM919.8,97.1h12.6v12.6h-12.6zM782.4,81.5h12.6v12.6h-12.6zM785.6,87.7h12.6v12.6h-12.6zM799.6,89.3h12.6v12.6h-12.6zM790.2,93.9h12.6v12.6h-12.6zM788.7,103.3h12.6v12.6h-12.6zM777.7,111.1h12.6v12.6h-12.6zM779.3,117.4h12.6v12.6h-12.6zM809.0,115.8h12.6v12.6h-12.6zM824.6,106.4h12.6v12.6h-12.6zM863.6,106.4h12.6v12.6h-12.6zM854.2,117.4h12.6v12.6h-12.6zM888.6,108.0h12.6v12.6h-12.6zM891.7,115.8h12.6v12.6h-12.6zM879.2,115.8h12.6v12.6h-12.6zM916.7,118.9h12.6v12.6h-12.6zM1004.7,45.7h12.6v12.6h-12.6zM984.6,67.6h12.6v12.6h-12.6zM993.7,63.9h12.6v12.6h-12.6zM932.7,74.3h12.6v12.6h-12.6zM926.6,81.0h12.6v12.6h-12.6zM937.6,83.5h12.6v12.6h-12.6zM952.2,89.6h12.6v12.6h-12.6zM965.7,91.4h12.6v12.6h-12.6zM952.2,98.7h12.6v12.6h-12.6zM965.7,110.3h12.6v12.6h-12.6zM955.9,117.6h12.6v12.6h-12.6zM930.3,106.6h12.6v12.6h-12.6zM925.4,92.0h12.6v12.6h-12.6zM896.1,78.6h12.6v12.6h-12.6zM996.1,85.9h12.6v12.6h-12.6zM996.1,94.4h12.6v12.6h-12.6zM983.9,106.6h12.6v12.6h-12.6zM991.3,107.8h12.6v12.6h-12.6zM969.3,122.5h12.6v12.6h-12.6zM896.1,111.5h12.6v12.6h-12.6zM898.6,128.3h12.6v12.6h-12.6zM916.3,123.4h12.6v12.6h-12.6zM926.0,120.2h12.6v12.6h-12.6zM911.5,132.3h12.6v12.6h-12.6zM903.4,146.0h12.6v12.6h-12.6zM894.5,146.0h12.6v12.6h-12.6zM937.4,140.4h12.6v12.6h-12.6zM945.4,147.7h12.6v12.6h-12.6zM964.9,147.7h12.6v12.6h-12.6zM974.6,149.3h12.6v12.6h-12.6zM969.7,128.3h12.6v12.6h-12.6zM964.9,115.3h12.6v12.6h-12.6zM949.5,154.1h12.6v12.6h-12.6zM961.6,167.9h12.6v12.6h-12.6zM972.9,167.1h12.6v12.6h-12.6zM984.3,176.8h12.6v12.6h-12.6zM984.3,183.2h12.6v12.6h-12.6zM1002.0,129.9h12.6v12.6h-12.6zM1003.7,142.8h12.6v12.6h-12.6zM1000.4,154.1h12.6v12.6h-12.6zM1003.7,170.3h12.6v12.6h-12.6zM909.9,171.9h12.6v12.6h-12.6zM924.4,173.5h12.6v12.6h-12.6zM939.0,173.5h12.6v12.6h-12.6zM934.1,188.1h12.6v12.6h-12.6zM943.8,189.7h12.6v12.6h-12.6zM922.8,189.7h12.6v12.6h-12.6zM958.4,192.9h12.6v12.6h-12.6zM971.3,196.2h12.6v12.6h-12.6zM906.6,204.3h12.6v12.6h-12.6zM934.1,204.3h12.6v12.6h-12.6zM943.8,217.2h12.6v12.6h-12.6zM963.2,218.8h12.6v12.6h-12.6zM951.9,226.9h12.6v12.6h-12.6zM942.2,231.7h12.6v12.6h-12.6zM997.2,207.5h12.6v12.6h-12.6zM990.7,225.3h12.6v12.6h-12.6zM1003.7,225.3h12.6v12.6h-12.6zM906.6,235.0h12.6v12.6h-12.6zM918.0,235.0h12.6v12.6h-12.6zM958.4,252.8h12.6v12.6h-12.6zM779.1,126.6h12.6v12.6h-12.6zM767.7,129.9h12.6v12.6h-12.6zM810.6,120.2h12.6v12.6h-12.6zM821.9,134.7h12.6v12.6h-12.6zM813.8,144.4h12.6v12.6h-12.6zM849.4,118.5h12.6v12.6h-12.6zM860.7,120.2h12.6v12.6h-12.6zM847.8,137.9h12.6v12.6h-12.6zM883.3,129.9h12.6v12.6h-12.6zM899.5,144.4h12.6v12.6h-12.6zM881.7,144.4h12.6v12.6h-12.6zM865.5,152.5h12.6v12.6h-12.6zM883.3,159.0h12.6v12.6h-12.6zM880.1,167.0h12.6v12.6h-12.6zM878.5,176.7h12.6v12.6h-12.6zM870.4,192.9h12.6v12.6h-12.6zM896.3,189.7h12.6v12.6h-12.6zM851.0,173.5h12.6v12.6h-12.6zM862.3,171.9h12.6v12.6h-12.6zM830.0,167.0h12.6v12.6h-12.6zM820.3,183.2h12.6v12.6h-12.6zM826.7,183.2h12.6v12.6h-12.6zM817.0,165.4h12.6v12.6h-12.6zM802.5,157.3h12.6v12.6h-12.6zM792.8,157.3h12.6v12.6h-12.6zM802.5,167.0h12.6v12.6h-12.6zM799.3,176.7h12.6v12.6h-12.6zM789.6,180.0h12.6v12.6h-12.6zM802.5,188.1h12.6v12.6h-12.6zM802.5,199.4h12.6v12.6h-12.6zM792.8,201.0h12.6v12.6h-12.6zM779.9,154.1h12.6v12.6h-12.6zM791.2,142.8h12.6v12.6h-12.6zM779.9,142.8h12.6v12.6h-12.6zM773.4,150.9h12.6v12.6h-12.6zM773.4,159.0h12.6v12.6h-12.6zM766.9,180.0h12.6v12.6h-12.6zM772.6,212.3h12.6v12.6h-12.6zM770.2,222.0h12.6v12.6h-12.6zM831.6,205.8h12.6v12.6h-12.6zM831.6,215.5h12.6v12.6h-12.6zM851.0,220.4h12.6v12.6h-12.6zM886.6,220.4h12.6v12.6h-12.6zM818.7,230.1h12.6v12.6h-12.6zM802.5,249.5h12.6v12.6h-12.6zM847.8,243.0h12.6v12.6h-12.6zM901.1,233.3h12.6v12.6h-12.6zM873.6,197.8h12.6v12.6h-12.6zM664.1,116.1h12.6v12.6h-12.6zM712.6,118.5h12.6v12.6h-12.6zM728.8,117.7h12.6v12.6h-12.6zM746.6,120.2h12.6v12.6h-12.6zM647.9,129.9h12.6v12.6h-12.6zM651.2,134.7h12.6v12.6h-12.6zM670.6,131.5h12.6v12.6h-12.6zM690.0,131.5h12.6v12.6h-12.6zM711.8,132.3h12.6v12.6h-12.6zM736.9,131.5h12.6v12.6h-12.6zM761.1,131.5h12.6v12.6h-12.6zM673.8,142.8h12.6v12.6h-12.6zM694.8,146.0h12.6v12.6h-12.6zM715.0,150.9h12.6v12.6h-12.6zM638.2,152.5h12.6v12.6h-12.6zM652.0,157.3h12.6v12.6h-12.6zM638.2,170.3h12.6v12.6h-12.6zM631.8,175.1h12.6v12.6h-12.6zM669.8,176.7h12.6v12.6h-12.6zM673.8,181.6h12.6v12.6h-12.6zM684.3,177.6h12.6v12.6h-12.6zM714.2,171.9h12.6v12.6h-12.6zM719.1,186.4h12.6v12.6h-12.6zM719.1,200.2h12.6v12.6h-12.6zM733.6,167.9h12.6v12.6h-12.6zM746.6,165.4h12.6v12.6h-12.6zM757.9,167.0h12.6v12.6h-12.6zM756.3,178.4h12.6v12.6h-12.6zM751.4,191.3h12.6v12.6h-12.6zM700.5,220.4h12.6v12.6h-12.6zM715.8,213.9h12.6v12.6h-12.6zM715.8,223.6h12.6v12.6h-12.6zM728.8,241.4h12.6v12.6h-12.6zM744.1,233.3h12.6v12.6h-12.6zM744.1,243.0h12.6v12.6h-12.6zM484.5,129.6h12.6v12.6h-12.6zM512.0,126.3h12.6v12.6h-12.6zM520.9,119.1h12.6v12.6h-12.6zM503.9,141.7h12.6v12.6h-12.6zM503.1,153.8h12.6v12.6h-12.6zM505.5,158.7h12.6v12.6h-12.6zM491.0,155.4h12.6v12.6h-12.6zM541.9,143.3h12.6v12.6h-12.6zM541.9,136.0h12.6v12.6h-12.6zM554.8,140.1h12.6v12.6h-12.6zM546.7,121.5h12.6v12.6h-12.6zM575.0,149.0h12.6v12.6h-12.6zM558.1,159.5h12.6v12.6h-12.6zM588.8,170.0h12.6v12.6h-12.6zM588.8,174.8h12.6v12.6h-12.6zM604.9,175.6h12.6v12.6h-12.6zM604.9,187.0h12.6v12.6h-12.6zM614.6,171.6h12.6v12.6h-12.6zM491.8,182.1h12.6v12.6h-12.6zM524.9,187.0h12.6v12.6h-12.6zM616.3,113.4h12.6v12.6h-12.6zM616.3,131.2h12.6v12.6h-12.6zM139.0,168.7h12.6v12.6h-12.6zM147.3,174.9h12.6v12.6h-12.6zM155.6,181.1h12.6v12.6h-12.6zM141.1,187.4h12.6v12.6h-12.6zM151.5,191.5h12.6v12.6h-12.6zM157.7,195.7h12.6v12.6h-12.6zM132.8,197.8h12.6v12.6h-12.6zM141.1,206.1h12.6v12.6h-12.6zM153.6,206.1h12.6v12.6h-12.6zM130.7,214.4h12.6v12.6h-12.6zM130.7,231.0h12.6v12.6h-12.6zM126.5,241.4h12.6v12.6h-12.6zM134.9,243.5h12.6v12.6h-12.6zM120.3,260.2h12.6v12.6h-12.6zM130.7,260.2h12.6v12.6h-12.6zM116.1,276.8h12.6v12.6h-12.6zM124.5,278.9h12.6v12.6h-12.6zM114.1,289.3h12.6v12.6h-12.6zM120.3,305.9h12.6v12.6h-12.6zM161.9,152.0h12.6v12.6h-12.6zM153.6,147.9h12.6v12.6h-12.6zM204.9,7.2h12.6v12.6h-12.6zM317.0,73.6h12.6v12.6h-12.6zM438.2,72.4h12.6v12.6h-12.6zM420.8,82.8h12.6v12.6h-12.6zM315.0,76.0h12.6v12.6h-12.6zM275.2,71.9h12.6v12.6h-12.6zM291.5,60.7h12.6v12.6h-12.6zM420.0,62.1h12.6v12.6h-12.6zM370.9,61.9h12.6v12.6h-12.6zM253.0,82.0h12.6v12.6h-12.6zM383.0,60.5h12.6v12.6h-12.6zM441.1,80.5h12.6v12.6h-12.6zM278.5,105.3h12.6v12.6h-12.6zM288.7,103.9h12.6v12.6h-12.6zM449.7,77.5h12.6v12.6h-12.6zM395.4,97.3h12.6v12.6h-12.6zM440.1,62.3h12.6v12.6h-12.6zM294.3,90.8h12.6v12.6h-12.6zM279.1,78.3h12.6v12.6h-12.6zM454.0,73.5h12.6v12.6h-12.6zM398.9,59.3h12.6v12.6h-12.6zM424.3,56.6h12.6v12.6h-12.6zM439.0,44.7h12.6v12.6h-12.6zM437.7,52.9h12.6v12.6h-12.6zM331.9,65.0h12.6v12.6h-12.6zM406.2,54.0h12.6v12.6h-12.6zM305.4,73.4h12.6v12.6h-12.6zM268.6,90.4h12.6v12.6h-12.6zM333.1,97.7h12.6v12.6h-12.6zM397.4,74.2h12.6v12.6h-12.6zM447.5,90.3h12.6v12.6h-12.6zM434.1,67.0h12.6v12.6h-12.6zM371.5,55.4h12.6v12.6h-12.6zM477.8,59.2h12.6v12.6h-12.6zM407.7,50.0h12.6v12.6h-12.6zM332.1,73.4h12.6v12.6h-12.6zM400.0,76.2h12.6v12.6h-12.6zM414.4,68.9h12.6v12.6h-12.6zM349.1,69.1h12.6v12.6h-12.6zM310.4,64.8h12.6v12.6h-12.6zM317.3,85.8h12.6v12.6h-12.6zM405.8,79.7h12.6v12.6h-12.6zM261.8,78.8h12.6v12.6h-12.6zM367.2,51.6h12.6v12.6h-12.6zM470.5,71.8h12.6v12.6h-12.6zM272.9,98.4h12.6v12.6h-12.6zM287.8,71.1h12.6v12.6h-12.6zM390.6,95.2h12.6v12.6h-12.6zM366.3,64.4h12.6v12.6h-12.6zM421.9,68.5h12.6v12.6h-12.6zM394.5,70.2h12.6v12.6h-12.6zM333.4,80.0h12.6v12.6h-12.6zM247.6,79.2h12.6v12.6h-12.6zM472.0,62.5h12.6v12.6h-12.6zM419.5,75.1h12.6v12.6h-12.6zM478.5,60.7h12.6v12.6h-12.6zM443.2,88.2h12.6v12.6h-12.6zM433.1,90.1h12.6v12.6h-12.6zM249.9,75.4h12.6v12.6h-12.6zM331.1,77.9h12.6v12.6h-12.6zM375.8,70.7h12.6v12.6h-12.6zM429.7,88.1h12.6v12.6h-12.6zM385.1,62.7h12.6v12.6h-12.6zM427.6,59.8h12.6v12.6h-12.6zM368.1,88.6h12.6v12.6h-12.6zM402.3,85.3h12.6v12.6h-12.6zM280.0,80.5h12.6v12.6h-12.6zM277.5,97.1h12.6v12.6h-12.6zM288.8,82.7h12.6v12.6h-12.6zM464.3,41.5h12.6v12.6h-12.6zM271.5,68.5h12.6v12.6h-12.6zM265.7,87.7h12.6v12.6h-12.6zM304.9,60.8h12.6v12.6h-12.6zM417.8,91.8h12.6v12.6h-12.6zM344.6,94.5h12.6v12.6h-12.6zM280.4,70.6h12.6v12.6h-12.6zM294.6,72.9h12.6v12.6h-12.6zM437.9,44.6h12.6v12.6h-12.6zM420.7,66.7h12.6v12.6h-12.6zM274.8,70.6h12.6v12.6h-12.6zM461.5,89.5h12.6v12.6h-12.6zM392.2,89.0h12.6v12.6h-12.6zM251.2,104.3h12.6v12.6h-12.6zM401.2,95.1h12.6v12.6h-12.6zM308.8,83.7h12.6v12.6h-12.6zM374.7,79.6h12.6v12.6h-12.6zM343.4,85.8h12.6v12.6h-12.6zM470.9,76.3h12.6v12.6h-12.6zM440.5,44.2h12.6v12.6h-12.6zM334.3,84.5h12.6v12.6h-12.6zM389.5,59.7h12.6v12.6h-12.6zM396.2,86.5h12.6v12.6h-12.6zM307.6,85.8h12.6v12.6h-12.6zM433.0,61.1h12.6v12.6h-12.6zM419.0,49.8h12.6v12.6h-12.6zM285.5,89.9h12.6v12.6h-12.6zM289.9,59.2h12.6v12.6h-12.6zM359.8,81.5h12.6v12.6h-12.6zM356.3,83.0h12.6v12.6h-12.6zM293.8,102.0h12.6v12.6h-12.6zM364.8,64.0h12.6v12.6h-12.6zM284.7,78.5h12.6v12.6h-12.6zM332.1,89.5h12.6v12.6h-12.6zM439.5,43.8h12.6v12.6h-12.6zM281.4,75.1h12.6v12.6h-12.6zM347.0,90.3h12.6v12.6h-12.6zM333.3,93.8h12.6v12.6h-12.6zM291.6,68.0h12.6v12.6h-12.6zM371.4,73.9h12.6v12.6h-12.6zM290.1,77.9h12.6v12.6h-12.6zM334.4,88.8h12.6v12.6h-12.6zM355.7,90.9h12.6v12.6h-12.6zM339.1,63.7h12.6v12.6h-12.6zM435.0,77.0h12.6v12.6h-12.6zM307.9,62.6h12.6v12.6h-12.6zM395.6,62.0h12.6v12.6h-12.6zM410.9,57.0h12.6v12.6h-12.6zM319.4,83.0h12.6v12.6h-12.6zM338.0,67.8h12.6v12.6h-12.6zM472.6,53.3h12.6v12.6h-12.6zM447.7,43.7h12.6v12.6h-12.6zM403.8,74.9h12.6v12.6h-12.6zM341.6,96.4h12.6v12.6h-12.6zM316.2,80.8h12.6v12.6h-12.6zM305.0,71.0h12.6v12.6h-12.6zM369.0,52.3h12.6v12.6h-12.6zM308.6,73.3h12.6v12.6h-12.6zM394.8,84.7h12.6v12.6h-12.6zM448.1,55.5h12.6v12.6h-12.6zM268.2,71.2h12.6v12.6h-12.6zM275.9,84.2h12.6v12.6h-12.6zM378.5,50.2h12.6v12.6h-12.6zM412.0,84.2h12.6v12.6h-12.6zM444.8,57.4h12.6v12.6h-12.6zM280.7,100.3h12.6v12.6h-12.6zM317.1,68.6h12.6v12.6h-12.6zM412.9,71.3h12.6v12.6h-12.6zM305.7,96.8h12.6v12.6h-12.6zM410.4,97.6h12.6v12.6h-12.6zM432.9,61.4h12.6v12.6h-12.6zM456.1,47.5h12.6v12.6h-12.6zM332.2,76.2h12.6v12.6h-12.6zM453.2,73.2h12.6v12.6h-12.6zM316.8,82.3h12.6v12.6h-12.6zM292.5,84.6h12.6v12.6h-12.6zM449.0,50.5h12.6v12.6h-12.6zM429.8,93.7h12.6v12.6h-12.6zM283.2,99.7h12.6v12.6h-12.6zM263.4,64.7h12.6v12.6h-12.6zM303.7,99.4h12.6v12.6h-12.6zM330.8,65.8h12.6v12.6h-12.6zM412.2,65.3h12.6v12.6h-12.6zM406.7,82.8h12.6v12.6h-12.6zM339.6,78.5h12.6v12.6h-12.6zM276.1,73.6h12.6v12.6h-12.6zM369.4,74.6h12.6v12.6h-12.6zM384.2,79.6h12.6v12.6h-12.6zM340.9,94.6h12.6v12.6h-12.6zM321.1,88.3h12.6v12.6h-12.6zM414.9,50.2h12.6v12.6h-12.6zM253.7,105.8h12.6v12.6h-12.6zM411.7,93.7h12.6v12.6h-12.6zM412.8,85.7h12.6v12.6h-12.6zM429.0,79.9h12.6v12.6h-12.6zM285.4,105.5h12.6v12.6h-12.6zM314.3,90.6h12.6v12.6h-12.6zM327.4,56.8h12.6v12.6h-12.6zM264.8,106.4h12.6v12.6h-12.6zM367.1,83.1h12.6v12.6h-12.6zM360.4,56.2h12.6v12.6h-12.6zM333.9,80.0h12.6v12.6h-12.6zM462.3,58.3h12.6v12.6h-12.6zM414.2,78.4h12.6v12.6h-12.6zM428.7,68.5h12.6v12.6h-12.6zM371.2,69.2h12.6v12.6h-12.6zM454.0,61.5h12.6v12.6h-12.6zM475.6,70.9h12.6v12.6h-12.6zM360.5,54.1h12.6v12.6h-12.6zM436.7,66.7h12.6v12.6h-12.6zM405.7,57.2h12.6v12.6h-12.6zM326.3,70.4h12.6v12.6h-12.6zM396.4,69.2h12.6v12.6h-12.6zM463.4,86.9h12.6v12.6h-12.6zM267.8,81.6h12.6v12.6h-12.6zM444.9,74.3h12.6v12.6h-12.6zM422.3,52.4h12.6v12.6h-12.6zM290.6,62.5h12.6v12.6h-12.6zM295.1,87.7h12.6v12.6h-12.6zM368.2,75.3h12.6v12.6h-12.6zM294.8,79.5h12.6v12.6h-12.6zM266.7,80.8h12.6v12.6h-12.6zM355.5,63.4h12.6v12.6h-12.6zM379.9,69.4h12.6v12.6h-12.6zM271.2,81.7h12.6v12.6h-12.6zM473.6,69.1h12.6v12.6h-12.6zM411.0,55.8h12.6v12.6h-12.6zM462.9,52.7h12.6v12.6h-12.6zM301.0,63.3h12.6v12.6h-12.6zM468.6,68.7h12.6v12.6h-12.6zM311.6,97.3h12.6v12.6h-12.6zM274.9,78.4h12.6v12.6h-12.6zM327.9,83.2h12.6v12.6h-12.6zM385.5,90.9h12.6v12.6h-12.6zM348.5,98.1h12.6v12.6h-12.6zM344.9,62.0h12.6v12.6h-12.6zM432.7,62.5h12.6v12.6h-12.6zM297.3,101.4h12.6v12.6h-12.6zM278.1,108.6h12.6v12.6h-12.6zM345.4,61.6h12.6v12.6h-12.6zM468.4,46.4h12.6v12.6h-12.6zM317.8,97.3h12.6v12.6h-12.6zM254.2,109.2h12.6v12.6h-12.6zM322.1,65.2h12.6v12.6h-12.6zM430.1,65.2h12.6v12.6h-12.6zM417.2,69.2h12.6v12.6h-12.6zM313.6,70.7h12.6v12.6h-12.6zM352.0,94.8h12.6v12.6h-12.6zM446.4,71.0h12.6v12.6h-12.6zM420.0,96.2h12.6v12.6h-12.6zM287.2,105.8h12.6v12.6h-12.6zM431.9,66.3h12.6v12.6h-12.6zM371.4,89.7h12.6v12.6h-12.6zM277.0,87.3h12.6v12.6h-12.6zM436.2,55.2h12.6v12.6h-12.6zM307.6,92.9h12.6v12.6h-12.6zM461.3,43.3h12.6v12.6h-12.6zM436.6,58.7h12.6v12.6h-12.6zM432.0,91.1h12.6v12.6h-12.6zM432.1,71.8h12.6v12.6h-12.6zM456.3,41.6h12.6v12.6h-12.6zM316.0,67.5h12.6v12.6h-12.6zM432.6,76.7h12.6v12.6h-12.6zM337.0,56.6h12.6v12.6h-12.6zM343.5,97.2h12.6v12.6h-12.6zM424.8,48.4h12.6v12.6h-12.6zM258.4,106.7h12.6v12.6h-12.6zM246.0,77.5h12.6v12.6h-12.6zM471.9,40.3h12.6v12.6h-12.6zM346.0,62.4h12.6v12.6h-12.6zM269.0,98.5h12.6v12.6h-12.6zM275.1,104.2h12.6v12.6h-12.6zM386.1,56.9h12.6v12.6h-12.6zM407.3,50.1h12.6v12.6h-12.6zM401.9,92.1h12.6v12.6h-12.6zM245.0,80.6h12.6v12.6h-12.6zM286.2,62.7h12.6v12.6h-12.6zM365.6,59.9h12.6v12.6h-12.6zM330.8,96.5h12.6v12.6h-12.6zM444.0,51.8h12.6v12.6h-12.6zM290.8,91.5h12.6v12.6h-12.6zM306.1,55.1h12.6v12.6h-12.6zM301.2,57.1h12.6v12.6h-12.6zM354.4,94.7h12.6v12.6h-12.6zM445.7,64.2h12.6v12.6h-12.6zM252.8,101.2h12.6v12.6h-12.6zM300.1,66.3h12.6v12.6h-12.6zM314.1,77.2h12.6v12.6h-12.6zM391.2,94.4h12.6v12.6h-12.6zM293.6,87.3h12.6v12.6h-12.6zM371.6,92.4h12.6v12.6h-12.6zM469.5,71.2h12.6v12.6h-12.6zM420.9,91.0h12.6v12.6h-12.6zM375.3,94.0h12.6v12.6h-12.6zM339.4,51.6h12.6v12.6h-12.6zM246.3,90.8h12.6v12.6h-12.6zM289.5,65.0h12.6v12.6h-12.6zM475.0,81.3h12.6v12.6h-12.6zM322.2,76.7h12.6v12.6h-12.6zM356.7,65.7h12.6v12.6h-12.6zM428.5,44.1h12.6v12.6h-12.6zM388.5,80.6h12.6v12.6h-12.6zM383.5,85.8h12.6v12.6h-12.6zM400.6,64.1h12.6v12.6h-12.6zM391.3,67.6h12.6v12.6h-12.6zM434.2,50.7h12.6v12.6h-12.6zM350.5,87.8h12.6v12.6h-12.6zM266.8,62.5h12.6v12.6h-12.6zM329.5,81.1h12.6v12.6h-12.6zM438.3,62.9h12.6v12.6h-12.6zM299.7,90.8h12.6v12.6h-12.6zM367.6,84.9h12.6v12.6h-12.6zM241.3,78.5h12.6v12.6h-12.6zM204.8,125.2h12.6v12.6h-12.6zM224.1,93.3h12.6v12.6h-12.6zM242.1,124.1h12.6v12.6h-12.6zM162.3,161.9h12.6v12.6h-12.6zM210.6,86.8h12.6v12.6h-12.6zM179.3,101.1h12.6v12.6h-12.6zM191.8,100.0h12.6v12.6h-12.6zM163.6,138.4h12.6v12.6h-12.6zM180.5,92.7h12.6v12.6h-12.6zM232.2,126.1h12.6v12.6h-12.6zM217.9,72.3h12.6v12.6h-12.6zM225.9,109.3h12.6v12.6h-12.6zM181.9,120.7h12.6v12.6h-12.6zM155.3,127.7h12.6v12.6h-12.6zM168.2,145.6h12.6v12.6h-12.6zM151.8,176.3h12.6v12.6h-12.6zM153.4,167.6h12.6v12.6h-12.6zM181.4,144.6h12.6v12.6h-12.6zM151.8,126.3h12.6v12.6h-12.6zM192.3,83.5h12.6v12.6h-12.6zM213.4,116.7h12.6v12.6h-12.6zM162.8,110.7h12.6v12.6h-12.6zM173.6,131.3h12.6v12.6h-12.6zM180.7,152.7h12.6v12.6h-12.6zM228.7,119.6h12.6v12.6h-12.6zM192.7,83.5h12.6v12.6h-12.6zM227.2,121.6h12.6v12.6h-12.6zM150.9,190.4h12.6v12.6h-12.6zM167.7,150.3h12.6v12.6h-12.6zM221.3,125.6h12.6v12.6h-12.6zM222.3,76.2h12.6v12.6h-12.6zM176.4,124.3h12.6v12.6h-12.6zM172.6,141.4h12.6v12.6h-12.6zM153.1,164.5h12.6v12.6h-12.6zM146.7,172.8h12.6v12.6h-12.6zM237.1,68.8h12.6v12.6h-12.6zM240.2,92.3h12.6v12.6h-12.6zM227.8,112.8h12.6v12.6h-12.6zM183.6,86.6h12.6v12.6h-12.6zM148.4,184.5h12.6v12.6h-12.6zM218.6,85.2h12.6v12.6h-12.6zM206.3,106.4h12.6v12.6h-12.6zM233.5,86.9h12.6v12.6h-12.6zM226.4,101.1h12.6v12.6h-12.6zM166.9,139.7h12.6v12.6h-12.6zM173.7,140.5h12.6v12.6h-12.6zM223.4,124.4h12.6v12.6h-12.6zM175.7,149.5h12.6v12.6h-12.6zM169.5,106.1h12.6v12.6h-12.6zM490.3,54.6h12.6v12.6h-12.6zM567.7,40.1h12.6v12.6h-12.6zM537.7,84.7h12.6v12.6h-12.6zM480.0,37.6h12.6v12.6h-12.6zM492.2,79.7h12.6v12.6h-12.6zM532.4,44.2h12.6v12.6h-12.6zM514.3,80.6h12.6v12.6h-12.6zM512.9,78.0h12.6v12.6h-12.6zM589.1,81.5h12.6v12.6h-12.6zM508.5,46.8h12.6v12.6h-12.6zM502.1,69.5h12.6v12.6h-12.6zM578.5,88.0h12.6v12.6h-12.6zM498.2,98.4h12.6v12.6h-12.6zM519.6,82.3h12.6v12.6h-12.6zM468.7,41.0h12.6v12.6h-12.6zM482.0,95.6h12.6v12.6h-12.6zM548.9,93.1h12.6v12.6h-12.6zM543.9,62.2h12.6v12.6h-12.6zM526.0,75.2h12.6v12.6h-12.6zM574.4,64.4h12.6v12.6h-12.6zM578.6,76.7h12.6v12.6h-12.6zM569.8,68.6h12.6v12.6h-12.6zM550.7,57.4h12.6v12.6h-12.6zM526.9,48.8h12.6v12.6h-12.6zM467.8,36.4h12.6v12.6h-12.6zM552.0,65.7h12.6v12.6h-12.6zM579.4,92.2h12.6v12.6h-12.6zM536.6,87.3h12.6v12.6h-12.6zM510.7,47.4h12.6v12.6h-12.6zM477.7,46.4h12.6v12.6h-12.6zM538.2,41.6h12.6v12.6h-12.6zM456.5,92.0h12.6v12.6h-12.6zM467.6,65.2h12.6v12.6h-12.6zM522.1,77.1h12.6v12.6h-12.6zM558.8,73.9h12.6v12.6h-12.6zM540.1,69.2h12.6v12.6h-12.6zM588.8,49.6h12.6v12.6h-12.6zM550.2,72.6h12.6v12.6h-12.6zM459.6,54.4h12.6v12.6h-12.6zM583.5,88.6h12.6v12.6h-12.6zM455.5,54.5h12.6v12.6h-12.6zM455.1,91.6h12.6v12.6h-12.6zM469.2,37.7h12.6v12.6h-12.6zM591.2,64.9h12.6v12.6h-12.6zM498.3,37.1h12.6v12.6h-12.6zM508.2,59.3h12.6v12.6h-12.6zM527.0,34.2h12.6v12.6h-12.6zM474.4,48.4h12.6v12.6h-12.6zM515.4,54.9h12.6v12.6h-12.6zM539.6,53.7h12.6v12.6h-12.6zM462.0,48.3h12.6v12.6h-12.6zM532.5,87.6h12.6v12.6h-12.6zM462.7,46.6h12.6v12.6h-12.6zM517.6,80.5h12.6v12.6h-12.6zM564.8,37.4h12.6v12.6h-12.6zM590.4,76.7h12.6v12.6h-12.6zM465.8,51.5h12.6v12.6h-12.6zM540.6,60.7h12.6v12.6h-12.6zM516.2,90.0h12.6v12.6h-12.6zM569.1,72.0h12.6v12.6h-12.6zM564.6,62.1h12.6v12.6h-12.6zM590.1,76.1h12.6v12.6h-12.6zM577.3,72.9h12.6v12.6h-12.6zM553.6,47.2h12.6v12.6h-12.6zM530.5,53.9h12.6v12.6h-12.6zM580.7,80.7h12.6v12.6h-12.6zM482.4,51.7h12.6v12.6h-12.6zM518.9,91.0h12.6v12.6h-12.6zM470.2,101.4h12.6v12.6h-12.6zM585.8,50.8h12.6v12.6h-12.6zM543.4,58.9h12.6v12.6h-12.6zM551.3,39.8h12.6v12.6h-12.6zM519.5,74.9h12.6v12.6h-12.6zM541.4,82.2h12.6v12.6h-12.6zM578.5,50.6h12.6v12.6h-12.6zM475.1,61.0h12.6v12.6h-12.6zM553.2,85.4h12.6v12.6h-12.6zM589.9,52.4h12.6v12.6h-12.6zM490.0,63.3h12.6v12.6h-12.6zM495.1,79.3h12.6v12.6h-12.6zM586.9,44.4h12.6v12.6h-12.6zM526.2,81.1h12.6v12.6h-12.6zM522.7,97.7h12.6v12.6h-12.6zM556.9,95.5h12.6v12.6h-12.6zM469.3,47.4h12.6v12.6h-12.6zM462.9,91.8h12.6v12.6h-12.6zM564.2,84.6h12.6v12.6h-12.6zM580.8,52.6h12.6v12.6h-12.6zM553.8,50.3h12.6v12.6h-12.6zM464.3,85.9h12.6v12.6h-12.6zM596.5,59.0h12.6v12.6h-12.6zM703.9,78.3h12.6v12.6h-12.6zM597.8,70.0h12.6v12.6h-12.6zM655.6,54.6h12.6v12.6h-12.6zM693.9,52.1h12.6v12.6h-12.6zM642.4,74.6h12.6v12.6h-12.6zM648.3,78.6h12.6v12.6h-12.6zM626.3,82.0h12.6v12.6h-12.6zM688.1,62.1h12.6v12.6h-12.6zM628.5,63.3h12.6v12.6h-12.6zM717.5,78.5h12.6v12.6h-12.6zM654.4,89.0h12.6v12.6h-12.6zM588.3,85.3h12.6v12.6h-12.6zM639.8,50.8h12.6v12.6h-12.6zM682.8,97.9h12.6v12.6h-12.6zM614.8,81.0h12.6v12.6h-12.6zM628.4,87.2h12.6v12.6h-12.6zM692.0,57.9h12.6v12.6h-12.6zM708.2,82.5h12.6v12.6h-12.6zM686.1,91.6h12.6v12.6h-12.6zM648.0,88.2h12.6v12.6h-12.6zM711.2,67.8h12.6v12.6h-12.6zM655.7,53.9h12.6v12.6h-12.6zM688.5,62.1h12.6v12.6h-12.6zM714.4,61.1h12.6v12.6h-12.6zM668.0,68.1h12.6v12.6h-12.6zM675.6,56.7h12.6v12.6h-12.6zM610.7,87.5h12.6v12.6h-12.6zM696.5,77.5h12.6v12.6h-12.6zM721.9,57.2h12.6v12.6h-12.6zM711.3,55.2h12.6v12.6h-12.6zM728.4,80.6h12.6v12.6h-12.6zM701.8,89.9h12.6v12.6h-12.6zM591.8,66.4h12.6v12.6h-12.6zM596.4,56.5h12.6v12.6h-12.6zM615.8,93.8h12.6v12.6h-12.6zM602.7,62.3h12.6v12.6h-12.6zM657.6,93.3h12.6v12.6h-12.6zM728.5,85.4h12.6v12.6h-12.6zM615.8,76.2h12.6v12.6h-12.6z" fill="none" stroke="#1a1a1a" stroke-width="1.45"/><circle cx="780.5" cy="187.5" r="3.1" fill="#117D45"/>
<circle cx="817" cy="88" r="3.1" fill="#4E6B5B"/>
<circle cx="795.2" cy="351" r="3.1" fill="#117D45"/>
<circle cx="852" cy="306" r="3.1" fill="#64F0BE"/>
<circle cx="808.7" cy="774.3" r="3.1" fill="#117D45"/>
<circle cx="811" cy="774.3" r="3.1" fill="#117D45"/>
<circle cx="815.7" cy="774.3" r="3.1" fill="#117D45"/>
<circle cx="820" cy="774.3" r="3.1" fill="#117D45"/>
<circle cx="852" cy="774.3" r="3.1" fill="#64F0BE"/>
<circle cx="859.4" cy="774.3" r="3.1" fill="#64F0BE"/>
<rect x="91.0" y="9.3" width="920.0" height="764.9000000000001" fill="none" stroke="#262626" stroke-width="1.3"/>
<line x1="115.86" y1="774.2" x2="115.86" y2="764.2" stroke="#262626" stroke-width="1.3"/>
<line x1="115.86" y1="9.3" x2="115.86" y2="19.3" stroke="#262626" stroke-width="1.3"/>
<line x1="140.73" y1="774.2" x2="140.73" y2="754.2" stroke="#262626" stroke-width="1.3"/>
<line x1="140.73" y1="9.3" x2="140.73" y2="29.3" stroke="#262626" stroke-width="1.3"/>
<line x1="165.59" y1="774.2" x2="165.59" y2="764.2" stroke="#262626" stroke-width="1.3"/>
<line x1="165.59" y1="9.3" x2="165.59" y2="19.3" stroke="#262626" stroke-width="1.3"/>
<line x1="190.46" y1="774.2" x2="190.46" y2="764.2" stroke="#262626" stroke-width="1.3"/>
<line x1="190.46" y1="9.3" x2="190.46" y2="19.3" stroke="#262626" stroke-width="1.3"/>
<line x1="215.32" y1="774.2" x2="215.32" y2="764.2" stroke="#262626" stroke-width="1.3"/>
<line x1="215.32" y1="9.3" x2="215.32" y2="19.3" stroke="#262626" stroke-width="1.3"/>
<line x1="240.19" y1="774.2" x2="240.19" y2="764.2" stroke="#262626" stroke-width="1.3"/>
<line x1="240.19" y1="9.3" x2="240.19" y2="19.3" stroke="#262626" stroke-width="1.3"/>
<line x1="265.05" y1="774.2" x2="265.05" y2="754.2" stroke="#262626" stroke-width="1.3"/>
<line x1="265.05" y1="9.3" x2="265.05" y2="29.3" stroke="#262626" stroke-width="1.3"/>
<line x1="289.92" y1="774.2" x2="289.92" y2="764.2" stroke="#262626" stroke-width="1.3"/>
<line x1="289.92" y1="9.3" x2="289.92" y2="19.3" stroke="#262626" stroke-width="1.3"/>
<line x1="314.78" y1="774.2" x2="314.78" y2="764.2" stroke="#262626" stroke-width="1.3"/>
<line x1="314.78" y1="9.3" x2="314.78" y2="19.3" stroke="#262626" stroke-width="1.3"/>
<line x1="339.65" y1="774.2" x2="339.65" y2="764.2" stroke="#262626" stroke-width="1.3"/>
<line x1="339.65" y1="9.3" x2="339.65" y2="19.3" stroke="#262626" stroke-width="1.3"/>
<line x1="364.51" y1="774.2" x2="364.51" y2="764.2" stroke="#262626" stroke-width="1.3"/>
<line x1="364.51" y1="9.3" x2="364.51" y2="19.3" stroke="#262626" stroke-width="1.3"/>
<line x1="389.38" y1="774.2" x2="389.38" y2="754.2" stroke="#262626" stroke-width="1.3"/>
<line x1="389.38" y1="9.3" x2="389.38" y2="29.3" stroke="#262626" stroke-width="1.3"/>
<line x1="414.24" y1="774.2" x2="414.24" y2="764.2" stroke="#262626" stroke-width="1.3"/>
<line x1="414.24" y1="9.3" x2="414.24" y2="19.3" stroke="#262626" stroke-width="1.3"/>
<line x1="439.11" y1="774.2" x2="439.11" y2="764.2" stroke="#262626" stroke-width="1.3"/>
<line x1="439.11" y1="9.3" x2="439.11" y2="19.3" stroke="#262626" stroke-width="1.3"/>
<line x1="463.97" y1="774.2" x2="463.97" y2="764.2" stroke="#262626" stroke-width="1.3"/>
<line x1="463.97" y1="9.3" x2="463.97" y2="19.3" stroke="#262626" stroke-width="1.3"/>
<line x1="488.84" y1="774.2" x2="488.84" y2="764.2" stroke="#262626" stroke-width="1.3"/>
<line x1="488.84" y1="9.3" x2="488.84" y2="19.3" stroke="#262626" stroke-width="1.3"/>
<line x1="513.70" y1="774.2" x2="513.70" y2="754.2" stroke="#262626" stroke-width="1.3"/>
<line x1="513.70" y1="9.3" x2="513.70" y2="29.3" stroke="#262626" stroke-width="1.3"/>
<line x1="538.57" y1="774.2" x2="538.57" y2="764.2" stroke="#262626" stroke-width="1.3"/>
<line x1="538.57" y1="9.3" x2="538.57" y2="19.3" stroke="#262626" stroke-width="1.3"/>
<line x1="563.43" y1="774.2" x2="563.43" y2="764.2" stroke="#262626" stroke-width="1.3"/>
<line x1="563.43" y1="9.3" x2="563.43" y2="19.3" stroke="#262626" stroke-width="1.3"/>
<line x1="588.30" y1="774.2" x2="588.30" y2="764.2" stroke="#262626" stroke-width="1.3"/>
<line x1="588.30" y1="9.3" x2="588.30" y2="19.3" stroke="#262626" stroke-width="1.3"/>
<line x1="613.16" y1="774.2" x2="613.16" y2="764.2" stroke="#262626" stroke-width="1.3"/>
<line x1="613.16" y1="9.3" x2="613.16" y2="19.3" stroke="#262626" stroke-width="1.3"/>
<line x1="638.03" y1="774.2" x2="638.03" y2="754.2" stroke="#262626" stroke-width="1.3"/>
<line x1="638.03" y1="9.3" x2="638.03" y2="29.3" stroke="#262626" stroke-width="1.3"/>
<line x1="662.89" y1="774.2" x2="662.89" y2="764.2" stroke="#262626" stroke-width="1.3"/>
<line x1="662.89" y1="9.3" x2="662.89" y2="19.3" stroke="#262626" stroke-width="1.3"/>
<line x1="687.76" y1="774.2" x2="687.76" y2="764.2" stroke="#262626" stroke-width="1.3"/>
<line x1="687.76" y1="9.3" x2="687.76" y2="19.3" stroke="#262626" stroke-width="1.3"/>
<line x1="712.62" y1="774.2" x2="712.62" y2="764.2" stroke="#262626" stroke-width="1.3"/>
<line x1="712.62" y1="9.3" x2="712.62" y2="19.3" stroke="#262626" stroke-width="1.3"/>
<line x1="737.49" y1="774.2" x2="737.49" y2="764.2" stroke="#262626" stroke-width="1.3"/>
<line x1="737.49" y1="9.3" x2="737.49" y2="19.3" stroke="#262626" stroke-width="1.3"/>
<line x1="762.35" y1="774.2" x2="762.35" y2="754.2" stroke="#262626" stroke-width="1.3"/>
<line x1="762.35" y1="9.3" x2="762.35" y2="29.3" stroke="#262626" stroke-width="1.3"/>
<line x1="787.22" y1="774.2" x2="787.22" y2="764.2" stroke="#262626" stroke-width="1.3"/>
<line x1="787.22" y1="9.3" x2="787.22" y2="19.3" stroke="#262626" stroke-width="1.3"/>
<line x1="812.08" y1="774.2" x2="812.08" y2="764.2" stroke="#262626" stroke-width="1.3"/>
<line x1="812.08" y1="9.3" x2="812.08" y2="19.3" stroke="#262626" stroke-width="1.3"/>
<line x1="836.95" y1="774.2" x2="836.95" y2="764.2" stroke="#262626" stroke-width="1.3"/>
<line x1="836.95" y1="9.3" x2="836.95" y2="19.3" stroke="#262626" stroke-width="1.3"/>
<line x1="861.81" y1="774.2" x2="861.81" y2="764.2" stroke="#262626" stroke-width="1.3"/>
<line x1="861.81" y1="9.3" x2="861.81" y2="19.3" stroke="#262626" stroke-width="1.3"/>
<line x1="886.68" y1="774.2" x2="886.68" y2="754.2" stroke="#262626" stroke-width="1.3"/>
<line x1="886.68" y1="9.3" x2="886.68" y2="29.3" stroke="#262626" stroke-width="1.3"/>
<line x1="911.54" y1="774.2" x2="911.54" y2="764.2" stroke="#262626" stroke-width="1.3"/>
<line x1="911.54" y1="9.3" x2="911.54" y2="19.3" stroke="#262626" stroke-width="1.3"/>
<line x1="936.41" y1="774.2" x2="936.41" y2="764.2" stroke="#262626" stroke-width="1.3"/>
<line x1="936.41" y1="9.3" x2="936.41" y2="19.3" stroke="#262626" stroke-width="1.3"/>
<line x1="961.27" y1="774.2" x2="961.27" y2="764.2" stroke="#262626" stroke-width="1.3"/>
<line x1="961.27" y1="9.3" x2="961.27" y2="19.3" stroke="#262626" stroke-width="1.3"/>
<line x1="986.14" y1="774.2" x2="986.14" y2="764.2" stroke="#262626" stroke-width="1.3"/>
<line x1="986.14" y1="9.3" x2="986.14" y2="19.3" stroke="#262626" stroke-width="1.3"/>
<line x1="91.0" y1="758.90" x2="101.0" y2="758.90" stroke="#262626" stroke-width="1.3"/>
<line x1="1011.0" y1="758.90" x2="1001.0" y2="758.90" stroke="#262626" stroke-width="1.3"/>
<line x1="91.0" y1="743.60" x2="101.0" y2="743.60" stroke="#262626" stroke-width="1.3"/>
<line x1="1011.0" y1="743.60" x2="1001.0" y2="743.60" stroke="#262626" stroke-width="1.3"/>
<line x1="91.0" y1="728.31" x2="101.0" y2="728.31" stroke="#262626" stroke-width="1.3"/>
<line x1="1011.0" y1="728.31" x2="1001.0" y2="728.31" stroke="#262626" stroke-width="1.3"/>
<line x1="91.0" y1="713.01" x2="101.0" y2="713.01" stroke="#262626" stroke-width="1.3"/>
<line x1="1011.0" y1="713.01" x2="1001.0" y2="713.01" stroke="#262626" stroke-width="1.3"/>
<line x1="91.0" y1="697.71" x2="111.0" y2="697.71" stroke="#262626" stroke-width="1.3"/>
<line x1="1011.0" y1="697.71" x2="991.0" y2="697.71" stroke="#262626" stroke-width="1.3"/>
<line x1="91.0" y1="682.41" x2="101.0" y2="682.41" stroke="#262626" stroke-width="1.3"/>
<line x1="1011.0" y1="682.41" x2="1001.0" y2="682.41" stroke="#262626" stroke-width="1.3"/>
<line x1="91.0" y1="667.11" x2="101.0" y2="667.11" stroke="#262626" stroke-width="1.3"/>
<line x1="1011.0" y1="667.11" x2="1001.0" y2="667.11" stroke="#262626" stroke-width="1.3"/>
<line x1="91.0" y1="651.82" x2="101.0" y2="651.82" stroke="#262626" stroke-width="1.3"/>
<line x1="1011.0" y1="651.82" x2="1001.0" y2="651.82" stroke="#262626" stroke-width="1.3"/>
<line x1="91.0" y1="636.52" x2="101.0" y2="636.52" stroke="#262626" stroke-width="1.3"/>
<line x1="1011.0" y1="636.52" x2="1001.0" y2="636.52" stroke="#262626" stroke-width="1.3"/>
<line x1="91.0" y1="621.22" x2="111.0" y2="621.22" stroke="#262626" stroke-width="1.3"/>
<line x1="1011.0" y1="621.22" x2="991.0" y2="621.22" stroke="#262626" stroke-width="1.3"/>
<line x1="91.0" y1="605.92" x2="101.0" y2="605.92" stroke="#262626" stroke-width="1.3"/>
<line x1="1011.0" y1="605.92" x2="1001.0" y2="605.92" stroke="#262626" stroke-width="1.3"/>
<line x1="91.0" y1="590.62" x2="101.0" y2="590.62" stroke="#262626" stroke-width="1.3"/>
<line x1="1011.0" y1="590.62" x2="1001.0" y2="590.62" stroke="#262626" stroke-width="1.3"/>
<line x1="91.0" y1="575.33" x2="101.0" y2="575.33" stroke="#262626" stroke-width="1.3"/>
<line x1="1011.0" y1="575.33" x2="1001.0" y2="575.33" stroke="#262626" stroke-width="1.3"/>
<line x1="91.0" y1="560.03" x2="101.0" y2="560.03" stroke="#262626" stroke-width="1.3"/>
<line x1="1011.0" y1="560.03" x2="1001.0" y2="560.03" stroke="#262626" stroke-width="1.3"/>
<line x1="91.0" y1="544.73" x2="111.0" y2="544.73" stroke="#262626" stroke-width="1.3"/>
<line x1="1011.0" y1="544.73" x2="991.0" y2="544.73" stroke="#262626" stroke-width="1.3"/>
<line x1="91.0" y1="529.43" x2="101.0" y2="529.43" stroke="#262626" stroke-width="1.3"/>
<line x1="1011.0" y1="529.43" x2="1001.0" y2="529.43" stroke="#262626" stroke-width="1.3"/>
<line x1="91.0" y1="514.13" x2="101.0" y2="514.13" stroke="#262626" stroke-width="1.3"/>
<line x1="1011.0" y1="514.13" x2="1001.0" y2="514.13" stroke="#262626" stroke-width="1.3"/>
<line x1="91.0" y1="498.84" x2="101.0" y2="498.84" stroke="#262626" stroke-width="1.3"/>
<line x1="1011.0" y1="498.84" x2="1001.0" y2="498.84" stroke="#262626" stroke-width="1.3"/>
<line x1="91.0" y1="483.54" x2="101.0" y2="483.54" stroke="#262626" stroke-width="1.3"/>
<line x1="1011.0" y1="483.54" x2="1001.0" y2="483.54" stroke="#262626" stroke-width="1.3"/>
<line x1="91.0" y1="468.24" x2="111.0" y2="468.24" stroke="#262626" stroke-width="1.3"/>
<line x1="1011.0" y1="468.24" x2="991.0" y2="468.24" stroke="#262626" stroke-width="1.3"/>
<line x1="91.0" y1="452.94" x2="101.0" y2="452.94" stroke="#262626" stroke-width="1.3"/>
<line x1="1011.0" y1="452.94" x2="1001.0" y2="452.94" stroke="#262626" stroke-width="1.3"/>
<line x1="91.0" y1="437.64" x2="101.0" y2="437.64" stroke="#262626" stroke-width="1.3"/>
<line x1="1011.0" y1="437.64" x2="1001.0" y2="437.64" stroke="#262626" stroke-width="1.3"/>
<line x1="91.0" y1="422.35" x2="101.0" y2="422.35" stroke="#262626" stroke-width="1.3"/>
<line x1="1011.0" y1="422.35" x2="1001.0" y2="422.35" stroke="#262626" stroke-width="1.3"/>
<line x1="91.0" y1="407.05" x2="101.0" y2="407.05" stroke="#262626" stroke-width="1.3"/>
<line x1="1011.0" y1="407.05" x2="1001.0" y2="407.05" stroke="#262626" stroke-width="1.3"/>
<line x1="91.0" y1="391.75" x2="111.0" y2="391.75" stroke="#262626" stroke-width="1.3"/>
<line x1="1011.0" y1="391.75" x2="991.0" y2="391.75" stroke="#262626" stroke-width="1.3"/>
<line x1="91.0" y1="376.45" x2="101.0" y2="376.45" stroke="#262626" stroke-width="1.3"/>
<line x1="1011.0" y1="376.45" x2="1001.0" y2="376.45" stroke="#262626" stroke-width="1.3"/>
<line x1="91.0" y1="361.15" x2="101.0" y2="361.15" stroke="#262626" stroke-width="1.3"/>
<line x1="1011.0" y1="361.15" x2="1001.0" y2="361.15" stroke="#262626" stroke-width="1.3"/>
<line x1="91.0" y1="345.86" x2="101.0" y2="345.86" stroke="#262626" stroke-width="1.3"/>
<line x1="1011.0" y1="345.86" x2="1001.0" y2="345.86" stroke="#262626" stroke-width="1.3"/>
<line x1="91.0" y1="330.56" x2="101.0" y2="330.56" stroke="#262626" stroke-width="1.3"/>
<line x1="1011.0" y1="330.56" x2="1001.0" y2="330.56" stroke="#262626" stroke-width="1.3"/>
<line x1="91.0" y1="315.26" x2="111.0" y2="315.26" stroke="#262626" stroke-width="1.3"/>
<line x1="1011.0" y1="315.26" x2="991.0" y2="315.26" stroke="#262626" stroke-width="1.3"/>
<line x1="91.0" y1="299.96" x2="101.0" y2="299.96" stroke="#262626" stroke-width="1.3"/>
<line x1="1011.0" y1="299.96" x2="1001.0" y2="299.96" stroke="#262626" stroke-width="1.3"/>
<line x1="91.0" y1="284.66" x2="101.0" y2="284.66" stroke="#262626" stroke-width="1.3"/>
<line x1="1011.0" y1="284.66" x2="1001.0" y2="284.66" stroke="#262626" stroke-width="1.3"/>
<line x1="91.0" y1="269.37" x2="101.0" y2="269.37" stroke="#262626" stroke-width="1.3"/>
<line x1="1011.0" y1="269.37" x2="1001.0" y2="269.37" stroke="#262626" stroke-width="1.3"/>
<line x1="91.0" y1="254.07" x2="101.0" y2="254.07" stroke="#262626" stroke-width="1.3"/>
<line x1="1011.0" y1="254.07" x2="1001.0" y2="254.07" stroke="#262626" stroke-width="1.3"/>
<line x1="91.0" y1="238.77" x2="111.0" y2="238.77" stroke="#262626" stroke-width="1.3"/>
<line x1="1011.0" y1="238.77" x2="991.0" y2="238.77" stroke="#262626" stroke-width="1.3"/>
<line x1="91.0" y1="223.47" x2="101.0" y2="223.47" stroke="#262626" stroke-width="1.3"/>
<line x1="1011.0" y1="223.47" x2="1001.0" y2="223.47" stroke="#262626" stroke-width="1.3"/>
<line x1="91.0" y1="208.17" x2="101.0" y2="208.17" stroke="#262626" stroke-width="1.3"/>
<line x1="1011.0" y1="208.17" x2="1001.0" y2="208.17" stroke="#262626" stroke-width="1.3"/>
<line x1="91.0" y1="192.88" x2="101.0" y2="192.88" stroke="#262626" stroke-width="1.3"/>
<line x1="1011.0" y1="192.88" x2="1001.0" y2="192.88" stroke="#262626" stroke-width="1.3"/>
<line x1="91.0" y1="177.58" x2="101.0" y2="177.58" stroke="#262626" stroke-width="1.3"/>
<line x1="1011.0" y1="177.58" x2="1001.0" y2="177.58" stroke="#262626" stroke-width="1.3"/>
<line x1="91.0" y1="162.28" x2="111.0" y2="162.28" stroke="#262626" stroke-width="1.3"/>
<line x1="1011.0" y1="162.28" x2="991.0" y2="162.28" stroke="#262626" stroke-width="1.3"/>
<line x1="91.0" y1="146.98" x2="101.0" y2="146.98" stroke="#262626" stroke-width="1.3"/>
<line x1="1011.0" y1="146.98" x2="1001.0" y2="146.98" stroke="#262626" stroke-width="1.3"/>
<line x1="91.0" y1="131.68" x2="101.0" y2="131.68" stroke="#262626" stroke-width="1.3"/>
<line x1="1011.0" y1="131.68" x2="1001.0" y2="131.68" stroke="#262626" stroke-width="1.3"/>
<line x1="91.0" y1="116.39" x2="101.0" y2="116.39" stroke="#262626" stroke-width="1.3"/>
<line x1="1011.0" y1="116.39" x2="1001.0" y2="116.39" stroke="#262626" stroke-width="1.3"/>
<line x1="91.0" y1="101.09" x2="101.0" y2="101.09" stroke="#262626" stroke-width="1.3"/>
<line x1="1011.0" y1="101.09" x2="1001.0" y2="101.09" stroke="#262626" stroke-width="1.3"/>
<line x1="91.0" y1="85.79" x2="111.0" y2="85.79" stroke="#262626" stroke-width="1.3"/>
<line x1="1011.0" y1="85.79" x2="991.0" y2="85.79" stroke="#262626" stroke-width="1.3"/>
<line x1="91.0" y1="70.49" x2="101.0" y2="70.49" stroke="#262626" stroke-width="1.3"/>
<line x1="1011.0" y1="70.49" x2="1001.0" y2="70.49" stroke="#262626" stroke-width="1.3"/>
<line x1="91.0" y1="55.19" x2="101.0" y2="55.19" stroke="#262626" stroke-width="1.3"/>
<line x1="1011.0" y1="55.19" x2="1001.0" y2="55.19" stroke="#262626" stroke-width="1.3"/>
<line x1="91.0" y1="39.90" x2="101.0" y2="39.90" stroke="#262626" stroke-width="1.3"/>
<line x1="1011.0" y1="39.90" x2="1001.0" y2="39.90" stroke="#262626" stroke-width="1.3"/>
<line x1="91.0" y1="24.60" x2="101.0" y2="24.60" stroke="#262626" stroke-width="1.3"/>
<line x1="1011.0" y1="24.60" x2="1001.0" y2="24.60" stroke="#262626" stroke-width="1.3"/>
<text x="141.03" y="816.8" text-anchor="middle" class="t">5</text>
<text x="264.55" y="816.8" text-anchor="middle" class="t" letter-spacing="-1.6">10</text>
<text x="388.88" y="816.8" text-anchor="middle" class="t" letter-spacing="-1.6">15</text>
<text x="513.20" y="816.8" text-anchor="middle" class="t" letter-spacing="-1.6">20</text>
<text x="637.53" y="816.8" text-anchor="middle" class="t" letter-spacing="-1.6">25</text>
<text x="761.85" y="816.8" text-anchor="middle" class="t" letter-spacing="-1.6">30</text>
<text x="886.18" y="816.8" text-anchor="middle" class="t" letter-spacing="-1.6">35</text>
<text x="1010.50" y="816.8" text-anchor="middle" class="t" letter-spacing="-1.6">40</text>
<text x="78.2" y="785.70" text-anchor="end" class="t">0</text>
<text x="78.6" y="709.21" text-anchor="end" class="t" letter-spacing="-0.6">0.1</text>
<text x="78.6" y="632.72" text-anchor="end" class="t" letter-spacing="-0.6">0.2</text>
<text x="78.6" y="556.23" text-anchor="end" class="t" letter-spacing="-0.6">0.3</text>
<text x="78.6" y="479.74" text-anchor="end" class="t" letter-spacing="-0.6">0.4</text>
<text x="78.6" y="403.25" text-anchor="end" class="t" letter-spacing="-0.6">0.5</text>
<text x="78.6" y="326.76" text-anchor="end" class="t" letter-spacing="-0.6">0.6</text>
<text x="78.6" y="250.27" text-anchor="end" class="t" letter-spacing="-0.6">0.7</text>
<text x="78.6" y="173.78" text-anchor="end" class="t" letter-spacing="-0.6">0.8</text>
<text x="78.6" y="97.29" text-anchor="end" class="t" letter-spacing="-0.6">0.9</text>
<text x="78.2" y="20.80" text-anchor="end" class="t">1</text>
<text x="549" y="860" text-anchor="middle" class="lab">Vertical Distance Travelled [mm]</text>
<text transform="translate(22.6,391.6) rotate(-90)" text-anchor="middle" class="lab" style="font-size:32.7px">Eccenticity</text>
<rect x="326.2" y="573.6" width="335" height="191" fill="#fff" stroke="#262626" stroke-width="1.3"/>
<rect x="371.0" y="589.3000000000001" width="12.6" height="12.6" fill="none" stroke="#1a1a1a" stroke-width="1.45"/>
<text x="425.2" y="606.3" class="lg">Experiments</text>
<circle cx="377" cy="632.6" r="3.2" fill="#14C6F4"/>
<text x="425.2" y="642.6" class="lg">Simulation Bubble 1</text>
<circle cx="377" cy="668.9" r="3.2" fill="#64F0BE"/>
<text x="425.2" y="678.9" class="lg">Simulation Bubble 2</text>
<circle cx="377" cy="705.2" r="3.2" fill="#FCC028"/>
<text x="425.2" y="715.2" class="lg">Simulation Bubble 3</text>
<circle cx="377" cy="741.5" r="3.2" fill="#1478F8"/>
<text x="425.2" y="751.5" class="lg">(and so on...)</text>
</svg></body></html>
